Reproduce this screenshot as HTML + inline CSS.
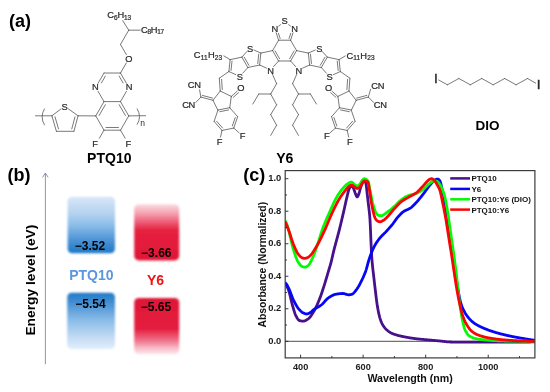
<!DOCTYPE html>
<html><head><meta charset="utf-8"><title>Figure</title>
<style>html,body{margin:0;padding:0;background:#fff}svg{display:block}text{font-family:"Liberation Sans", sans-serif}</style>
</head><body>
<svg width="550" height="392" viewBox="0 0 550 392">
<rect width="550" height="392" fill="#fff"/>
<text x="9" y="26.5" font-size="18" text-anchor="start" font-weight="bold" fill="#000" >(a)</text>
<text x="7.5" y="181" font-size="18" text-anchor="start" font-weight="bold" fill="#000" >(b)</text>
<text x="243.3" y="181.2" font-size="18" text-anchor="start" font-weight="bold" fill="#000" >(c)</text>
<g id="ptq10">
<line x1="95.75" y1="115.9" x2="104" y2="101.61" stroke="#4c4c4c" stroke-width="0.75" stroke-linecap="round"/>
<line x1="99.09" y1="115.52" x2="105.34" y2="104.69" stroke="#4c4c4c" stroke-width="0.75" stroke-linecap="round"/>
<line x1="104" y1="101.61" x2="120.5" y2="101.61" stroke="#4c4c4c" stroke-width="0.75" stroke-linecap="round"/>
<line x1="120.5" y1="101.61" x2="128.75" y2="115.9" stroke="#4c4c4c" stroke-width="0.75" stroke-linecap="round"/>
<line x1="119.16" y1="104.69" x2="125.41" y2="115.52" stroke="#4c4c4c" stroke-width="0.75" stroke-linecap="round"/>
<line x1="128.75" y1="115.9" x2="120.5" y2="130.19" stroke="#4c4c4c" stroke-width="0.75" stroke-linecap="round"/>
<line x1="120.5" y1="130.19" x2="104" y2="130.19" stroke="#4c4c4c" stroke-width="0.75" stroke-linecap="round"/>
<line x1="118.5" y1="127.49" x2="106" y2="127.49" stroke="#4c4c4c" stroke-width="0.75" stroke-linecap="round"/>
<line x1="104" y1="130.19" x2="95.75" y2="115.9" stroke="#4c4c4c" stroke-width="0.75" stroke-linecap="round"/>
<line x1="104" y1="101.61" x2="98.05" y2="91.3" stroke="#4c4c4c" stroke-width="0.75" stroke-linecap="round"/>
<line x1="98.05" y1="83.34" x2="104" y2="73.03" stroke="#4c4c4c" stroke-width="0.75" stroke-linecap="round"/>
<line x1="101.39" y1="82.96" x2="105.34" y2="76.11" stroke="#4c4c4c" stroke-width="0.75" stroke-linecap="round"/>
<line x1="104" y1="73.03" x2="120.5" y2="73.03" stroke="#4c4c4c" stroke-width="0.75" stroke-linecap="round"/>
<line x1="120.5" y1="73.03" x2="126.45" y2="83.34" stroke="#4c4c4c" stroke-width="0.75" stroke-linecap="round"/>
<line x1="119.16" y1="76.11" x2="123.11" y2="82.96" stroke="#4c4c4c" stroke-width="0.75" stroke-linecap="round"/>
<line x1="126.45" y1="91.3" x2="120.5" y2="101.61" stroke="#4c4c4c" stroke-width="0.75" stroke-linecap="round"/>
<text x="95.15" y="90.27" font-size="9.3" text-anchor="middle" font-weight="normal" fill="#2a2a2a" stroke="#2a2a2a" stroke-width="0.22" letter-spacing="-0.25">N</text>
<text x="128.95" y="90.27" font-size="9.3" text-anchor="middle" font-weight="normal" fill="#2a2a2a" stroke="#2a2a2a" stroke-width="0.22" letter-spacing="-0.25">N</text>
<line x1="120.5" y1="73.03" x2="126.35" y2="62.9" stroke="#4c4c4c" stroke-width="0.75" stroke-linecap="round"/>
<text x="128.75" y="61.79" font-size="9.3" text-anchor="middle" font-weight="normal" fill="#2a2a2a" stroke="#2a2a2a" stroke-width="0.22" letter-spacing="-0.25">O</text>
<line x1="126.35" y1="54.59" x2="120.5" y2="44.45" stroke="#4c4c4c" stroke-width="0.75" stroke-linecap="round"/>
<line x1="120.5" y1="44.45" x2="128.75" y2="30.16" stroke="#4c4c4c" stroke-width="0.75" stroke-linecap="round"/>
<line x1="128.75" y1="30.16" x2="122.7" y2="20.6" stroke="#4c4c4c" stroke-width="0.75" stroke-linecap="round"/>
<line x1="128.75" y1="30.16" x2="140.2" y2="30.16" stroke="#4c4c4c" stroke-width="0.75" stroke-linecap="round"/>
<text x="107.3" y="17.75" font-size="9.3" text-anchor="start" font-weight="normal" fill="#2a2a2a" stroke="#2a2a2a" stroke-width="0.22" letter-spacing="-0.12">C<tspan font-size="6.51" dy="1.86">6</tspan><tspan dy="-1.86">H</tspan><tspan font-size="6.51" dy="1.86">13</tspan></text>
<text x="141" y="32.55" font-size="9.3" text-anchor="start" font-weight="normal" fill="#2a2a2a" stroke="#2a2a2a" stroke-width="0.22" letter-spacing="-0.3">C<tspan font-size="6.51" dy="1.86">8</tspan><tspan dy="-1.86">H</tspan><tspan font-size="6.51" dy="1.86">17</tspan></text>
<line x1="104" y1="130.19" x2="99.35" y2="138.24" stroke="#4c4c4c" stroke-width="0.75" stroke-linecap="round"/>
<line x1="120.5" y1="130.19" x2="125.15" y2="138.24" stroke="#4c4c4c" stroke-width="0.75" stroke-linecap="round"/>
<text x="95" y="147.25" font-size="9.3" text-anchor="middle" font-weight="normal" fill="#2a2a2a" stroke="#2a2a2a" stroke-width="0.22" letter-spacing="-0.25">F</text>
<text x="128.2" y="147.25" font-size="9.3" text-anchor="middle" font-weight="normal" fill="#2a2a2a" stroke="#2a2a2a" stroke-width="0.22" letter-spacing="-0.25">F</text>
<line x1="95.75" y1="115.9" x2="78.1" y2="115.8" stroke="#4c4c4c" stroke-width="0.75" stroke-linecap="round"/>
<line x1="78.1" y1="115.8" x2="68.35" y2="108.87" stroke="#4c4c4c" stroke-width="0.75" stroke-linecap="round"/>
<line x1="60.93" y1="108.97" x2="51.9" y2="115.8" stroke="#4c4c4c" stroke-width="0.75" stroke-linecap="round"/>
<line x1="51.9" y1="115.8" x2="56.4" y2="131.3" stroke="#4c4c4c" stroke-width="0.75" stroke-linecap="round"/>
<line x1="54.99" y1="116.78" x2="58.49" y2="128.82" stroke="#4c4c4c" stroke-width="0.75" stroke-linecap="round"/>
<line x1="56.4" y1="131.3" x2="73.9" y2="131.3" stroke="#4c4c4c" stroke-width="0.75" stroke-linecap="round"/>
<line x1="73.9" y1="131.3" x2="78.1" y2="115.8" stroke="#4c4c4c" stroke-width="0.75" stroke-linecap="round"/>
<line x1="71.76" y1="128.86" x2="75.02" y2="116.83" stroke="#4c4c4c" stroke-width="0.75" stroke-linecap="round"/>
<text x="64.6" y="109.75" font-size="9.3" text-anchor="middle" font-weight="normal" fill="#2a2a2a" stroke="#2a2a2a" stroke-width="0.22" letter-spacing="-0.25">S</text>
<line x1="51.9" y1="115.8" x2="35.5" y2="115.8" stroke="#4c4c4c" stroke-width="0.75" stroke-linecap="round"/>
<line x1="128.75" y1="115.9" x2="145.6" y2="115.7" stroke="#4c4c4c" stroke-width="0.75" stroke-linecap="round"/>
<path d="M44.6 108.6 Q39.6 116.8 44.6 125.2" fill="none" stroke="#4c4c4c" stroke-width="0.75"/>
<path d="M137.0 108.6 Q142.0 116.6 137.0 124.6" fill="none" stroke="#4c4c4c" stroke-width="0.75"/>
<text x="142.6" y="125.6" font-size="8.5" text-anchor="middle" font-weight="normal" fill="#2a2a2a" >n</text>
<text x="109.3" y="163" font-size="14" text-anchor="middle" font-weight="bold" fill="#000" >PTQ10</text>
</g>
<g id="y6">
<line x1="278.6" y1="40.21" x2="290.6" y2="40.21" stroke="#4c4c4c" stroke-width="0.75" stroke-linecap="round"/>
<line x1="278.6" y1="60.99" x2="290.6" y2="60.99" stroke="#4c4c4c" stroke-width="0.75" stroke-linecap="round"/>
<line x1="278.6" y1="40.21" x2="272.6" y2="50.6" stroke="#4c4c4c" stroke-width="0.75" stroke-linecap="round"/>
<line x1="290.6" y1="40.21" x2="296.6" y2="50.6" stroke="#4c4c4c" stroke-width="0.75" stroke-linecap="round"/>
<line x1="272.6" y1="50.6" x2="278.6" y2="60.99" stroke="#4c4c4c" stroke-width="0.75" stroke-linecap="round"/>
<line x1="275.08" y1="50.9" x2="279.58" y2="58.69" stroke="#4c4c4c" stroke-width="0.75" stroke-linecap="round"/>
<line x1="296.6" y1="50.6" x2="290.6" y2="60.99" stroke="#4c4c4c" stroke-width="0.75" stroke-linecap="round"/>
<line x1="294.12" y1="50.9" x2="289.62" y2="58.69" stroke="#4c4c4c" stroke-width="0.75" stroke-linecap="round"/>
<line x1="278.6" y1="40.21" x2="276.19" y2="32.79" stroke="#4c4c4c" stroke-width="0.75" stroke-linecap="round"/>
<line x1="280.13" y1="38.45" x2="278.46" y2="33.31" stroke="#4c4c4c" stroke-width="0.75" stroke-linecap="round"/>
<line x1="290.6" y1="40.21" x2="293.01" y2="32.79" stroke="#4c4c4c" stroke-width="0.75" stroke-linecap="round"/>
<line x1="289.07" y1="38.45" x2="290.74" y2="33.31" stroke="#4c4c4c" stroke-width="0.75" stroke-linecap="round"/>
<line x1="278.69" y1="26.03" x2="280.55" y2="24.68" stroke="#4c4c4c" stroke-width="0.75" stroke-linecap="round"/>
<line x1="290.51" y1="26.03" x2="288.65" y2="24.68" stroke="#4c4c4c" stroke-width="0.75" stroke-linecap="round"/>
<text x="274.69" y="31.94" font-size="9.3" text-anchor="middle" font-weight="normal" fill="#2a2a2a" stroke="#2a2a2a" stroke-width="0.22" letter-spacing="-0.25">N</text>
<text x="294.51" y="31.94" font-size="9.3" text-anchor="middle" font-weight="normal" fill="#2a2a2a" stroke="#2a2a2a" stroke-width="0.22" letter-spacing="-0.25">N</text>
<text x="284.6" y="24.49" font-size="9.3" text-anchor="middle" font-weight="normal" fill="#2a2a2a" stroke="#2a2a2a" stroke-width="0.22" letter-spacing="-0.25">S</text>
<line x1="278.6" y1="60.99" x2="273.51" y2="66.64" stroke="#4c4c4c" stroke-width="0.75" stroke-linecap="round"/>
<line x1="266.55" y1="68.12" x2="259.61" y2="65.03" stroke="#4c4c4c" stroke-width="0.75" stroke-linecap="round"/>
<line x1="260.86" y1="53.09" x2="272.6" y2="50.6" stroke="#4c4c4c" stroke-width="0.75" stroke-linecap="round"/>
<line x1="260.86" y1="53.09" x2="259.61" y2="65.03" stroke="#4c4c4c" stroke-width="0.75" stroke-linecap="round"/>
<line x1="258.74" y1="54.18" x2="257.75" y2="63.53" stroke="#4c4c4c" stroke-width="0.75" stroke-linecap="round"/>
<line x1="259.61" y1="65.03" x2="247.87" y2="67.52" stroke="#4c4c4c" stroke-width="0.75" stroke-linecap="round"/>
<line x1="241.87" y1="57.13" x2="246.96" y2="51.48" stroke="#4c4c4c" stroke-width="0.75" stroke-linecap="round"/>
<line x1="253.92" y1="50" x2="260.86" y2="53.09" stroke="#4c4c4c" stroke-width="0.75" stroke-linecap="round"/>
<line x1="241.87" y1="57.13" x2="247.87" y2="67.52" stroke="#4c4c4c" stroke-width="0.75" stroke-linecap="round"/>
<line x1="244.25" y1="57.26" x2="248.95" y2="65.4" stroke="#4c4c4c" stroke-width="0.75" stroke-linecap="round"/>
<line x1="247.87" y1="67.52" x2="242.78" y2="73.17" stroke="#4c4c4c" stroke-width="0.75" stroke-linecap="round"/>
<line x1="235.82" y1="74.65" x2="228.88" y2="71.56" stroke="#4c4c4c" stroke-width="0.75" stroke-linecap="round"/>
<line x1="228.88" y1="71.56" x2="230.13" y2="59.63" stroke="#4c4c4c" stroke-width="0.75" stroke-linecap="round"/>
<line x1="231" y1="70.48" x2="231.99" y2="61.13" stroke="#4c4c4c" stroke-width="0.75" stroke-linecap="round"/>
<line x1="230.13" y1="59.63" x2="241.87" y2="57.13" stroke="#4c4c4c" stroke-width="0.75" stroke-linecap="round"/>
<text x="270.57" y="73.76" font-size="9.3" text-anchor="middle" font-weight="normal" fill="#2a2a2a" stroke="#2a2a2a" stroke-width="0.22" letter-spacing="-0.25">N</text>
<text x="249.9" y="51.76" font-size="9.3" text-anchor="middle" font-weight="normal" fill="#2a2a2a" stroke="#2a2a2a" stroke-width="0.22" letter-spacing="-0.25">S</text>
<text x="239.84" y="80.09" font-size="9.3" text-anchor="middle" font-weight="normal" fill="#2a2a2a" stroke="#2a2a2a" stroke-width="0.22" letter-spacing="-0.25">S</text>
<line x1="230.13" y1="59.63" x2="223.9" y2="55.9" stroke="#4c4c4c" stroke-width="0.75" stroke-linecap="round"/>
<line x1="228.88" y1="71.56" x2="219.3" y2="78.2" stroke="#4c4c4c" stroke-width="0.75" stroke-linecap="round"/>
<line x1="219.3" y1="78.2" x2="220.2" y2="91" stroke="#4c4c4c" stroke-width="0.75" stroke-linecap="round"/>
<line x1="221.59" y1="79.34" x2="222.3" y2="89.55" stroke="#4c4c4c" stroke-width="0.75" stroke-linecap="round"/>
<line x1="220.2" y1="91" x2="231.3" y2="96.4" stroke="#4c4c4c" stroke-width="0.75" stroke-linecap="round"/>
<line x1="231.3" y1="96.4" x2="229.74" y2="107.9" stroke="#4c4c4c" stroke-width="0.75" stroke-linecap="round"/>
<line x1="217.8" y1="110.1" x2="213" y2="100.3" stroke="#4c4c4c" stroke-width="0.75" stroke-linecap="round"/>
<line x1="213" y1="100.3" x2="220.2" y2="91" stroke="#4c4c4c" stroke-width="0.75" stroke-linecap="round"/>
<line x1="231.3" y1="96.4" x2="237.25" y2="91.14" stroke="#4c4c4c" stroke-width="0.75" stroke-linecap="round"/>
<line x1="233.22" y1="97.37" x2="238.58" y2="92.64" stroke="#4c4c4c" stroke-width="0.75" stroke-linecap="round"/>
<text x="240.7" y="91.45" font-size="9.3" text-anchor="middle" font-weight="normal" fill="#2a2a2a" stroke="#2a2a2a" stroke-width="0.22" letter-spacing="-0.25">O</text>
<line x1="213" y1="100.3" x2="200.9" y2="97.1" stroke="#4c4c4c" stroke-width="0.75" stroke-linecap="round"/>
<line x1="212.54" y1="98.11" x2="202.38" y2="95.42" stroke="#4c4c4c" stroke-width="0.75" stroke-linecap="round"/>
<line x1="217.97" y1="110.02" x2="229.74" y2="107.69" stroke="#4c4c4c" stroke-width="0.75" stroke-linecap="round"/>
<line x1="219.83" y1="111.69" x2="228.65" y2="109.94" stroke="#4c4c4c" stroke-width="0.75" stroke-linecap="round"/>
<line x1="229.74" y1="107.69" x2="237.64" y2="116.72" stroke="#4c4c4c" stroke-width="0.75" stroke-linecap="round"/>
<line x1="237.64" y1="116.72" x2="233.77" y2="128.08" stroke="#4c4c4c" stroke-width="0.75" stroke-linecap="round"/>
<line x1="235.26" y1="117.49" x2="232.36" y2="126.01" stroke="#4c4c4c" stroke-width="0.75" stroke-linecap="round"/>
<line x1="233.77" y1="128.08" x2="222" y2="130.41" stroke="#4c4c4c" stroke-width="0.75" stroke-linecap="round"/>
<line x1="222" y1="130.41" x2="214.1" y2="121.38" stroke="#4c4c4c" stroke-width="0.75" stroke-linecap="round"/>
<line x1="222.52" y1="127.96" x2="216.59" y2="121.19" stroke="#4c4c4c" stroke-width="0.75" stroke-linecap="round"/>
<line x1="214.1" y1="121.38" x2="217.97" y2="110.02" stroke="#4c4c4c" stroke-width="0.75" stroke-linecap="round"/>
<line x1="233.77" y1="128.08" x2="239.25" y2="132.92" stroke="#4c4c4c" stroke-width="0.75" stroke-linecap="round"/>
<line x1="222" y1="130.41" x2="220.5" y2="137.11" stroke="#4c4c4c" stroke-width="0.75" stroke-linecap="round"/>
<text x="242.4" y="139.05" font-size="9.3" text-anchor="middle" font-weight="normal" fill="#2a2a2a" stroke="#2a2a2a" stroke-width="0.22" letter-spacing="-0.25">F</text>
<text x="219.5" y="144.95" font-size="9.3" text-anchor="middle" font-weight="normal" fill="#2a2a2a" stroke="#2a2a2a" stroke-width="0.22" letter-spacing="-0.25">F</text>
<line x1="272.41" y1="74.12" x2="276.6" y2="83.7" stroke="#4c4c4c" stroke-width="0.75" stroke-linecap="round"/>
<line x1="276.6" y1="83.7" x2="270.7" y2="94" stroke="#4c4c4c" stroke-width="0.75" stroke-linecap="round"/>
<line x1="270.7" y1="94" x2="276.6" y2="104.9" stroke="#4c4c4c" stroke-width="0.75" stroke-linecap="round"/>
<line x1="276.6" y1="104.9" x2="270.7" y2="114.6" stroke="#4c4c4c" stroke-width="0.75" stroke-linecap="round"/>
<line x1="270.7" y1="114.6" x2="276.6" y2="125.2" stroke="#4c4c4c" stroke-width="0.75" stroke-linecap="round"/>
<line x1="276.6" y1="125.2" x2="270.7" y2="135.4" stroke="#4c4c4c" stroke-width="0.75" stroke-linecap="round"/>
<line x1="270.7" y1="94" x2="258.8" y2="94" stroke="#4c4c4c" stroke-width="0.75" stroke-linecap="round"/>
<line x1="258.8" y1="94" x2="252.8" y2="104" stroke="#4c4c4c" stroke-width="0.75" stroke-linecap="round"/>
<line x1="290.6" y1="60.99" x2="295.69" y2="66.64" stroke="#4c4c4c" stroke-width="0.75" stroke-linecap="round"/>
<line x1="302.65" y1="68.12" x2="309.59" y2="65.03" stroke="#4c4c4c" stroke-width="0.75" stroke-linecap="round"/>
<line x1="308.34" y1="53.09" x2="296.6" y2="50.6" stroke="#4c4c4c" stroke-width="0.75" stroke-linecap="round"/>
<line x1="308.34" y1="53.09" x2="309.59" y2="65.03" stroke="#4c4c4c" stroke-width="0.75" stroke-linecap="round"/>
<line x1="310.46" y1="54.18" x2="311.45" y2="63.53" stroke="#4c4c4c" stroke-width="0.75" stroke-linecap="round"/>
<line x1="309.59" y1="65.03" x2="321.33" y2="67.52" stroke="#4c4c4c" stroke-width="0.75" stroke-linecap="round"/>
<line x1="327.33" y1="57.13" x2="322.24" y2="51.48" stroke="#4c4c4c" stroke-width="0.75" stroke-linecap="round"/>
<line x1="315.28" y1="50" x2="308.34" y2="53.09" stroke="#4c4c4c" stroke-width="0.75" stroke-linecap="round"/>
<line x1="327.33" y1="57.13" x2="321.33" y2="67.52" stroke="#4c4c4c" stroke-width="0.75" stroke-linecap="round"/>
<line x1="324.95" y1="57.26" x2="320.25" y2="65.4" stroke="#4c4c4c" stroke-width="0.75" stroke-linecap="round"/>
<line x1="321.33" y1="67.52" x2="326.42" y2="73.17" stroke="#4c4c4c" stroke-width="0.75" stroke-linecap="round"/>
<line x1="333.38" y1="74.65" x2="340.32" y2="71.56" stroke="#4c4c4c" stroke-width="0.75" stroke-linecap="round"/>
<line x1="340.32" y1="71.56" x2="339.07" y2="59.63" stroke="#4c4c4c" stroke-width="0.75" stroke-linecap="round"/>
<line x1="338.2" y1="70.48" x2="337.21" y2="61.13" stroke="#4c4c4c" stroke-width="0.75" stroke-linecap="round"/>
<line x1="339.07" y1="59.63" x2="327.33" y2="57.13" stroke="#4c4c4c" stroke-width="0.75" stroke-linecap="round"/>
<text x="298.63" y="73.76" font-size="9.3" text-anchor="middle" font-weight="normal" fill="#2a2a2a" stroke="#2a2a2a" stroke-width="0.22" letter-spacing="-0.25">N</text>
<text x="319.3" y="51.76" font-size="9.3" text-anchor="middle" font-weight="normal" fill="#2a2a2a" stroke="#2a2a2a" stroke-width="0.22" letter-spacing="-0.25">S</text>
<text x="329.36" y="80.09" font-size="9.3" text-anchor="middle" font-weight="normal" fill="#2a2a2a" stroke="#2a2a2a" stroke-width="0.22" letter-spacing="-0.25">S</text>
<line x1="339.07" y1="59.63" x2="345.3" y2="55.9" stroke="#4c4c4c" stroke-width="0.75" stroke-linecap="round"/>
<line x1="340.32" y1="71.56" x2="349.9" y2="78.2" stroke="#4c4c4c" stroke-width="0.75" stroke-linecap="round"/>
<line x1="349.9" y1="78.2" x2="349" y2="91" stroke="#4c4c4c" stroke-width="0.75" stroke-linecap="round"/>
<line x1="347.61" y1="79.34" x2="346.9" y2="89.55" stroke="#4c4c4c" stroke-width="0.75" stroke-linecap="round"/>
<line x1="349" y1="91" x2="337.9" y2="96.4" stroke="#4c4c4c" stroke-width="0.75" stroke-linecap="round"/>
<line x1="337.9" y1="96.4" x2="339.46" y2="107.9" stroke="#4c4c4c" stroke-width="0.75" stroke-linecap="round"/>
<line x1="351.4" y1="110.1" x2="356.2" y2="100.3" stroke="#4c4c4c" stroke-width="0.75" stroke-linecap="round"/>
<line x1="356.2" y1="100.3" x2="349" y2="91" stroke="#4c4c4c" stroke-width="0.75" stroke-linecap="round"/>
<line x1="337.9" y1="96.4" x2="331.95" y2="91.14" stroke="#4c4c4c" stroke-width="0.75" stroke-linecap="round"/>
<line x1="335.98" y1="97.37" x2="330.62" y2="92.64" stroke="#4c4c4c" stroke-width="0.75" stroke-linecap="round"/>
<text x="328.5" y="91.45" font-size="9.3" text-anchor="middle" font-weight="normal" fill="#2a2a2a" stroke="#2a2a2a" stroke-width="0.22" letter-spacing="-0.25">O</text>
<line x1="356.2" y1="100.3" x2="368.3" y2="97.1" stroke="#4c4c4c" stroke-width="0.75" stroke-linecap="round"/>
<line x1="356.66" y1="98.11" x2="366.82" y2="95.42" stroke="#4c4c4c" stroke-width="0.75" stroke-linecap="round"/>
<line x1="351.23" y1="110.02" x2="339.46" y2="107.69" stroke="#4c4c4c" stroke-width="0.75" stroke-linecap="round"/>
<line x1="349.37" y1="111.69" x2="340.55" y2="109.94" stroke="#4c4c4c" stroke-width="0.75" stroke-linecap="round"/>
<line x1="339.46" y1="107.69" x2="331.56" y2="116.72" stroke="#4c4c4c" stroke-width="0.75" stroke-linecap="round"/>
<line x1="331.56" y1="116.72" x2="335.43" y2="128.08" stroke="#4c4c4c" stroke-width="0.75" stroke-linecap="round"/>
<line x1="333.94" y1="117.49" x2="336.84" y2="126.01" stroke="#4c4c4c" stroke-width="0.75" stroke-linecap="round"/>
<line x1="335.43" y1="128.08" x2="347.2" y2="130.41" stroke="#4c4c4c" stroke-width="0.75" stroke-linecap="round"/>
<line x1="347.2" y1="130.41" x2="355.1" y2="121.38" stroke="#4c4c4c" stroke-width="0.75" stroke-linecap="round"/>
<line x1="346.68" y1="127.96" x2="352.61" y2="121.19" stroke="#4c4c4c" stroke-width="0.75" stroke-linecap="round"/>
<line x1="355.1" y1="121.38" x2="351.23" y2="110.02" stroke="#4c4c4c" stroke-width="0.75" stroke-linecap="round"/>
<line x1="335.43" y1="128.08" x2="329.95" y2="132.92" stroke="#4c4c4c" stroke-width="0.75" stroke-linecap="round"/>
<line x1="347.2" y1="130.41" x2="348.7" y2="137.11" stroke="#4c4c4c" stroke-width="0.75" stroke-linecap="round"/>
<text x="326.8" y="139.05" font-size="9.3" text-anchor="middle" font-weight="normal" fill="#2a2a2a" stroke="#2a2a2a" stroke-width="0.22" letter-spacing="-0.25">F</text>
<text x="349.7" y="144.95" font-size="9.3" text-anchor="middle" font-weight="normal" fill="#2a2a2a" stroke="#2a2a2a" stroke-width="0.22" letter-spacing="-0.25">F</text>
<line x1="296.79" y1="74.12" x2="292.6" y2="83.7" stroke="#4c4c4c" stroke-width="0.75" stroke-linecap="round"/>
<line x1="292.6" y1="83.7" x2="298.5" y2="94" stroke="#4c4c4c" stroke-width="0.75" stroke-linecap="round"/>
<line x1="298.5" y1="94" x2="292.6" y2="104.9" stroke="#4c4c4c" stroke-width="0.75" stroke-linecap="round"/>
<line x1="292.6" y1="104.9" x2="298.5" y2="114.6" stroke="#4c4c4c" stroke-width="0.75" stroke-linecap="round"/>
<line x1="298.5" y1="114.6" x2="292.6" y2="125.2" stroke="#4c4c4c" stroke-width="0.75" stroke-linecap="round"/>
<line x1="292.6" y1="125.2" x2="298.5" y2="135.4" stroke="#4c4c4c" stroke-width="0.75" stroke-linecap="round"/>
<line x1="298.5" y1="94" x2="310.4" y2="94" stroke="#4c4c4c" stroke-width="0.75" stroke-linecap="round"/>
<line x1="310.4" y1="94" x2="316.4" y2="104" stroke="#4c4c4c" stroke-width="0.75" stroke-linecap="round"/>
<line x1="200.9" y1="97.1" x2="199.6" y2="89.9" stroke="#4c4c4c" stroke-width="0.75" stroke-linecap="round"/>
<line x1="200.9" y1="97.1" x2="195.9" y2="102.4" stroke="#4c4c4c" stroke-width="0.75" stroke-linecap="round"/>
<text x="194.2" y="88" font-size="9.3" text-anchor="middle" font-weight="normal" fill="#2a2a2a" stroke="#2a2a2a" stroke-width="0.22" letter-spacing="-0.25">CN</text>
<text x="188.6" y="108.2" font-size="9.3" text-anchor="middle" font-weight="normal" fill="#2a2a2a" stroke="#2a2a2a" stroke-width="0.22" letter-spacing="-0.25">CN</text>
<line x1="368.3" y1="97.1" x2="370.6" y2="89.3" stroke="#4c4c4c" stroke-width="0.75" stroke-linecap="round"/>
<line x1="368.3" y1="97.1" x2="373.6" y2="102.4" stroke="#4c4c4c" stroke-width="0.75" stroke-linecap="round"/>
<text x="377.8" y="89.2" font-size="9.3" text-anchor="middle" font-weight="normal" fill="#2a2a2a" stroke="#2a2a2a" stroke-width="0.22" letter-spacing="-0.25">CN</text>
<text x="380.2" y="108.1" font-size="9.3" text-anchor="middle" font-weight="normal" fill="#2a2a2a" stroke="#2a2a2a" stroke-width="0.22" letter-spacing="-0.25">CN</text>
<text x="193.8" y="57.75" font-size="9.3" text-anchor="start" font-weight="normal" fill="#2a2a2a" stroke="#2a2a2a" stroke-width="0.22" letter-spacing="0.2">C<tspan font-size="6.51" dy="1.86">11</tspan><tspan dy="-1.86">H</tspan><tspan font-size="6.51" dy="1.86">23</tspan></text>
<text x="346.4" y="58.55" font-size="9.3" text-anchor="start" font-weight="normal" fill="#2a2a2a" stroke="#2a2a2a" stroke-width="0.22" letter-spacing="0.15">C<tspan font-size="6.51" dy="1.86">11</tspan><tspan dy="-1.86">H</tspan><tspan font-size="6.51" dy="1.86">23</tspan></text>
<text x="284.7" y="163" font-size="14" text-anchor="middle" font-weight="bold" fill="#000" >Y6</text>
</g>
<g id="dio">
<line x1="447.4" y1="84.8" x2="458.85" y2="78.5" stroke="#4c4c4c" stroke-width="0.75" stroke-linecap="round"/>
<line x1="458.85" y1="78.5" x2="470.3" y2="84.8" stroke="#4c4c4c" stroke-width="0.75" stroke-linecap="round"/>
<line x1="470.3" y1="84.8" x2="481.75" y2="78.5" stroke="#4c4c4c" stroke-width="0.75" stroke-linecap="round"/>
<line x1="481.75" y1="78.5" x2="493.2" y2="84.8" stroke="#4c4c4c" stroke-width="0.75" stroke-linecap="round"/>
<line x1="493.2" y1="84.8" x2="504.65" y2="78.5" stroke="#4c4c4c" stroke-width="0.75" stroke-linecap="round"/>
<line x1="504.65" y1="78.5" x2="516.1" y2="84.8" stroke="#4c4c4c" stroke-width="0.75" stroke-linecap="round"/>
<line x1="516.1" y1="84.8" x2="527.55" y2="78.5" stroke="#4c4c4c" stroke-width="0.75" stroke-linecap="round"/>
<line x1="447.4" y1="84.8" x2="438.7" y2="80" stroke="#4c4c4c" stroke-width="0.75" stroke-linecap="round"/>
<line x1="527.55" y1="78.5" x2="535.7" y2="83.2" stroke="#4c4c4c" stroke-width="0.75" stroke-linecap="round"/>
<text x="435.8" y="82.95" font-size="13.5" text-anchor="middle" font-weight="normal" fill="#2a2a2a" stroke="#2a2a2a" stroke-width="0.45">I</text>
<text x="538.7" y="89.45" font-size="13.5" text-anchor="middle" font-weight="normal" fill="#2a2a2a" stroke="#2a2a2a" stroke-width="0.45">I</text>
<text x="487.6" y="129.6" font-size="13.5" text-anchor="middle" font-weight="bold" fill="#000" >DIO</text>
</g>
<defs>
<linearGradient id="gb1" x1="0" y1="0" x2="0" y2="1"><stop offset="0" stop-color="#d8e7f8"/><stop offset="0.3" stop-color="#b4d2f0"/><stop offset="0.5" stop-color="#8cbee8"/><stop offset="0.75" stop-color="#5096d7"/><stop offset="1" stop-color="#1e78c6"/></linearGradient>
<linearGradient id="gb2" x1="0" y1="0" x2="0" y2="1"><stop offset="0" stop-color="#2079c6"/><stop offset="0.2" stop-color="#4a92d5"/><stop offset="0.5" stop-color="#8cbee8"/><stop offset="0.8" stop-color="#c4dcf4"/><stop offset="1" stop-color="#e2eefb"/></linearGradient>
<linearGradient id="gr1" x1="0" y1="0" x2="0" y2="1"><stop offset="0" stop-color="#fcdbe1"/><stop offset="0.15" stop-color="#f6a6b4"/><stop offset="0.32" stop-color="#ee5c78"/><stop offset="0.46" stop-color="#e5213f"/><stop offset="1" stop-color="#e01636"/></linearGradient>
<linearGradient id="gr2" x1="0" y1="0" x2="0" y2="1"><stop offset="0" stop-color="#e01636"/><stop offset="0.55" stop-color="#e41f3e"/><stop offset="0.75" stop-color="#ef6f88"/><stop offset="0.9" stop-color="#f8c0cb"/><stop offset="1" stop-color="#fde8ec"/></linearGradient>
<filter id="soft" x="-10%" y="-10%" width="120%" height="120%"><feGaussianBlur stdDeviation="0.9"/></filter>
</defs>
<g id="energy">
<line x1="45.4" y1="173.3" x2="45.4" y2="364.2" stroke="#77779a" stroke-width="0.8"/>
<path d="M42.6 177.4 L45.4 173.0 L48.2 177.4" fill="none" stroke="#77779a" stroke-width="0.8"/>
<rect x="67.6" y="196.8" width="47.4" height="56.4" rx="4.5" fill="url(#gb1)" filter="url(#soft)"/>
<rect x="134.2" y="204.2" width="45" height="56.2" rx="4.5" fill="url(#gr1)" filter="url(#soft)"/>
<rect x="67.2" y="292.8" width="47.8" height="56.2" rx="4.5" fill="url(#gb2)" filter="url(#soft)"/>
<rect x="134.2" y="298.0" width="45" height="56.2" rx="4.5" fill="url(#gr2)" filter="url(#soft)"/>
<text x="89.9" y="249.9" font-size="12" text-anchor="middle" font-weight="bold" fill="#000" >−3.52</text>
<text x="156.3" y="256.9" font-size="12" text-anchor="middle" font-weight="bold" fill="#000" >−3.66</text>
<text x="90.4" y="307.6" font-size="12" text-anchor="middle" font-weight="bold" fill="#000" >−5.54</text>
<text x="156" y="310.9" font-size="12" text-anchor="middle" font-weight="bold" fill="#000" >−5.65</text>
<text x="91.4" y="279.8" font-size="14" text-anchor="middle" font-weight="bold" fill="#5a96e1" >PTQ10</text>
<text x="155.6" y="284.6" font-size="14" text-anchor="middle" font-weight="bold" fill="#f01414" >Y6</text>
<text transform="translate(34.7 335.6) rotate(-90)" font-size="12.5" font-weight="bold" fill="#000" textLength="111" lengthAdjust="spacingAndGlyphs">Energy level (eV)</text>
</g>
<g id="plot">
<clipPath id="pc"><rect x="285.2" y="170.6" width="249.7" height="187.3"/></clipPath>
<line x1="285.2" y1="341.3" x2="534.9" y2="341.3" stroke="#222" stroke-width="0.8"/>
<g clip-path="url(#pc)" fill="none" stroke-linejoin="round" stroke-linecap="butt">
<path d="M284.97 284.06 L285.28 284.21 L285.59 284.44 L285.9 284.72 L286.22 285.08 L286.53 285.55 L286.84 286.11 L287.15 286.76 L287.47 287.47 L287.78 288.24 L288.09 289.05 L288.4 289.88 L288.72 290.73 L289.03 291.65 L289.34 292.7 L289.66 293.85 L289.97 295.08 L290.28 296.38 L290.59 297.71 L290.91 299.05 L291.22 300.39 L291.53 301.71 L291.84 302.97 L292.16 304.16 L292.47 305.25 L292.78 306.33 L293.1 307.42 L293.41 308.51 L293.72 309.58 L294.03 310.63 L294.35 311.64 L294.66 312.61 L294.97 313.52 L295.28 314.35 L295.6 315.1 L295.91 315.76 L296.22 316.33 L296.53 316.9 L296.85 317.46 L297.16 318 L297.47 318.51 L297.79 318.98 L298.1 319.41 L298.41 319.8 L298.72 320.12 L299.04 320.38 L299.35 320.56 L299.66 320.67 L299.97 320.74 L300.29 320.81 L300.6 320.87 L300.91 320.93 L301.23 320.98 L301.54 321.02 L301.85 321.06 L302.16 321.09 L302.48 321.12 L302.79 321.13 L303.1 321.14 L303.41 321.13 L303.73 321.1 L304.04 321.04 L304.35 320.97 L304.67 320.87 L304.98 320.75 L305.29 320.62 L305.6 320.47 L305.92 320.31 L306.23 320.14 L306.54 319.95 L306.85 319.76 L307.17 319.57 L307.48 319.37 L307.79 319.17 L308.1 318.96 L308.42 318.73 L308.73 318.47 L309.04 318.18 L309.36 317.87 L309.67 317.52 L309.98 317.16 L310.29 316.77 L310.61 316.36 L310.92 315.93 L311.23 315.48 L311.54 315.02 L311.86 314.55 L312.17 314.06 L312.48 313.57 L312.8 313.06 L313.11 312.55 L313.42 312.04 L313.73 311.52 L314.05 311 L314.36 310.47 L314.67 309.92 L314.98 309.34 L315.3 308.74 L315.61 308.12 L315.92 307.48 L316.24 306.82 L316.55 306.15 L316.86 305.46 L317.17 304.75 L317.49 304.03 L317.8 303.3 L318.11 302.56 L318.42 301.8 L318.74 301.03 L319.05 300.26 L319.36 299.47 L319.67 298.68 L319.99 297.89 L320.3 297.07 L320.61 296.23 L320.93 295.36 L321.24 294.47 L321.55 293.56 L321.86 292.64 L322.18 291.69 L322.49 290.73 L322.8 289.76 L323.11 288.78 L323.43 287.79 L323.74 286.8 L324.05 285.8 L324.37 284.81 L324.68 283.81 L324.99 282.82 L325.3 281.8 L325.62 280.78 L325.93 279.74 L326.24 278.7 L326.55 277.64 L326.87 276.58 L327.18 275.52 L327.49 274.45 L327.8 273.39 L328.12 272.33 L328.43 271.28 L328.74 270.24 L329.06 269.22 L329.37 268.2 L329.68 267.17 L329.99 266.12 L330.31 265.05 L330.62 263.94 L330.93 262.78 L331.24 261.55 L331.56 260.27 L331.87 258.95 L332.18 257.6 L332.5 256.23 L332.81 254.86 L333.12 253.51 L333.43 252.17 L333.75 250.87 L334.06 249.62 L334.37 248.4 L334.68 247.19 L335 246.01 L335.31 244.83 L335.62 243.67 L335.94 242.52 L336.25 241.38 L336.56 240.23 L336.87 239.09 L337.19 237.95 L337.5 236.8 L337.81 235.64 L338.12 234.47 L338.44 233.28 L338.75 232.08 L339.06 230.86 L339.37 229.62 L339.69 228.37 L340 227.1 L340.31 225.82 L340.63 224.52 L340.94 223.22 L341.25 221.91 L341.56 220.59 L341.88 219.27 L342.19 217.94 L342.5 216.6 L342.81 215.26 L343.13 213.91 L343.44 212.57 L343.75 211.22 L344.07 209.85 L344.38 208.46 L344.69 207.04 L345 205.62 L345.32 204.2 L345.63 202.78 L345.94 201.38 L346.25 200.01 L346.57 198.68 L346.88 197.4 L347.19 196.1 L347.5 194.74 L347.82 193.39 L348.13 192.08 L348.44 190.86 L348.76 189.79 L349.07 188.92 L349.38 188.28 L349.69 187.72 L350.01 187.19 L350.32 186.72 L350.63 186.35 L350.94 186.11 L351.26 186.02 L351.57 186.08 L351.88 186.26 L352.2 186.53 L352.51 186.86 L352.82 187.24 L353.13 187.64 L353.45 188.17 L353.76 188.9 L354.07 189.77 L354.38 190.72 L354.7 191.67 L355.01 192.56 L355.32 193.33 L355.64 194.07 L355.95 194.87 L356.26 195.64 L356.57 196.29 L356.89 196.74 L357.2 196.91 L357.51 196.74 L357.82 196.29 L358.14 195.64 L358.45 194.9 L358.76 194.15 L359.07 193.28 L359.39 192.19 L359.7 190.98 L360.01 189.72 L360.33 188.51 L360.64 187.44 L360.95 186.57 L361.26 185.75 L361.58 184.96 L361.89 184.21 L362.2 183.52 L362.51 182.9 L362.83 182.37 L363.14 181.95 L363.45 181.58 L363.77 181.23 L364.08 180.93 L364.39 180.73 L364.7 180.65 L365.02 180.89 L365.33 181.54 L365.64 182.48 L365.95 183.58 L366.27 185.38 L366.58 188.11 L366.89 191.22 L367.21 194.15 L367.52 196.76 L367.83 199.36 L368.14 202 L368.46 204.72 L368.77 207.37 L369.08 209.94 L369.39 212.71 L369.71 215.94 L370.02 220.03 L370.33 226.03 L370.64 233.38 L370.96 241.16 L371.27 248.45 L371.58 254.31 L371.9 258.75 L372.21 262.53 L372.52 265.85 L372.83 268.83 L373.15 271.58 L373.46 274.2 L373.77 276.82 L374.08 279.52 L374.4 282.29 L374.71 285.05 L375.02 287.78 L375.34 290.44 L375.65 293.01 L375.96 295.54 L376.27 298.08 L376.59 300.57 L376.9 302.95 L377.21 305.15 L377.52 307.12 L377.84 308.87 L378.15 310.52 L378.46 312.09 L378.78 313.56 L379.09 314.93 L379.4 316.19 L379.71 317.35 L380.03 318.39 L380.34 319.35 L380.65 320.25 L380.96 321.09 L381.28 321.87 L381.59 322.59 L381.9 323.26 L382.21 323.88 L382.53 324.45 L382.84 324.99 L383.15 325.5 L383.47 325.99 L383.78 326.46 L384.09 326.91 L384.4 327.33 L384.72 327.73 L385.03 328.11 L385.34 328.46 L385.65 328.79 L385.97 329.11 L386.28 329.4 L386.59 329.69 L386.91 329.97 L387.22 330.25 L387.53 330.52 L387.84 330.77 L388.16 331.03 L388.47 331.27 L388.78 331.5 L389.09 331.73 L389.41 331.95 L389.72 332.15 L390.03 332.35 L390.34 332.54 L390.66 332.73 L390.97 332.9 L391.28 333.06 L391.6 333.21 L391.91 333.36 L392.22 333.49 L392.53 333.62 L392.85 333.75 L393.16 333.87 L393.47 333.99 L393.78 334.11 L394.1 334.22 L394.41 334.33 L394.72 334.44 L395.04 334.55 L395.35 334.65 L395.66 334.75 L395.97 334.84 L396.29 334.94 L396.6 335.03 L396.91 335.12 L397.22 335.2 L397.54 335.29 L397.85 335.37 L398.16 335.45 L398.48 335.53 L398.79 335.61 L399.1 335.69 L399.41 335.76 L399.73 335.83 L400.04 335.91 L400.35 335.98 L400.66 336.05 L400.98 336.12 L401.29 336.19 L401.6 336.26 L401.91 336.33 L402.23 336.4 L402.54 336.46 L402.85 336.53 L403.17 336.59 L403.48 336.66 L403.79 336.72 L404.1 336.79 L404.42 336.85 L404.73 336.91 L405.04 336.97 L405.35 337.03 L405.67 337.09 L405.98 337.15 L406.29 337.21 L406.61 337.27 L406.92 337.32 L407.23 337.38 L407.54 337.44 L407.86 337.49 L408.17 337.55 L408.48 337.6 L408.79 337.65 L409.11 337.7 L409.42 337.76 L409.73 337.81 L410.05 337.86 L410.36 337.91 L410.67 337.96 L410.98 338.01 L411.3 338.05 L411.61 338.1 L411.92 338.15 L412.23 338.19 L412.55 338.24 L412.86 338.28 L413.17 338.33 L413.48 338.37 L413.8 338.41 L414.11 338.46 L414.42 338.5 L414.74 338.54 L415.05 338.58 L415.36 338.62 L415.67 338.66 L415.99 338.7 L416.3 338.74 L416.61 338.77 L416.92 338.81 L417.24 338.85 L417.55 338.88 L417.86 338.92 L418.18 338.95 L418.49 338.99 L418.8 339.02 L419.11 339.05 L419.43 339.09 L419.74 339.12 L420.05 339.15 L420.36 339.18 L420.68 339.21 L420.99 339.24 L421.3 339.27 L421.61 339.3 L421.93 339.33 L422.24 339.36 L422.55 339.39 L422.87 339.42 L423.18 339.45 L423.49 339.48 L423.8 339.5 L424.12 339.53 L424.43 339.56 L424.74 339.59 L425.05 339.62 L425.37 339.64 L425.68 339.67 L425.99 339.7 L426.31 339.73 L426.62 339.75 L426.93 339.78 L427.24 339.81 L427.56 339.84 L427.87 339.86 L428.18 339.89 L428.49 339.92 L428.81 339.95 L429.12 339.98 L429.43 340.01 L429.75 340.04 L430.06 340.07 L430.37 340.1 L430.68 340.13 L431 340.16 L431.31 340.19 L431.62 340.22 L431.93 340.25 L432.25 340.28 L432.56 340.3 L432.87 340.33 L433.18 340.36 L433.5 340.39 L433.81 340.42 L434.12 340.45 L434.44 340.48 L434.75 340.51 L435.06 340.54 L435.37 340.57 L435.69 340.6 L436 340.63 L436.31 340.66 L436.62 340.69 L436.94 340.72 L437.25 340.74 L437.56 340.77 L437.88 340.8 L438.19 340.83 L438.5 340.86 L438.81 340.89 L439.13 340.92 L439.44 340.95 L439.75 340.98 L440.06 341.01 L440.38 341.04 L440.69 341.08 L441 341.11 L441.32 341.14 L441.63 341.17 L441.94 341.2 L442.25 341.24 L442.57 341.28 L442.88 341.31 L443.19 341.35 L443.5 341.39 L443.82 341.43 L444.13 341.47 L444.44 341.51 L444.75 341.55 L445.07 341.59 L445.38 341.63 L445.69 341.66 L446.01 341.7 L446.32 341.73 L446.63 341.77 L446.94 341.8 L447.26 341.83 L447.57 341.86 L447.88 341.88 L448.19 341.9 L448.51 341.92 L448.82 341.94 L449.13 341.95 L449.45 341.96 L449.76 341.97 L450.07 341.98 L450.38 341.99 L450.7 342 L451.01 342.01 L451.32 342.02 L451.63 342.03 L451.95 342.04 L452.26 342.05 L452.57 342.05 L452.88 342.06 L453.2 342.07 L453.51 342.08 L453.82 342.08 L454.14 342.09 L454.45 342.09 L454.76 342.1 L455.07 342.1 L455.39 342.1 L455.7 342.11 L456.01 342.11 L456.32 342.11 L456.64 342.11 L456.95 342.11 L457.26 342.11 L457.58 342.11 L457.89 342.11 L458.2 342.11 L458.51 342.11 L458.83 342.11 L459.14 342.11 L459.45 342.11 L459.76 342.11 L460.08 342.11 L460.39 342.11 L460.7 342.11 L461.02 342.11 L461.33 342.11 L461.64 342.11 L461.95 342.11 L462.27 342.11 L462.58 342.11 L462.89 342.11 L463.2 342.11 L463.52 342.11 L463.83 342.11 L464.14 342.11 L464.45 342.11 L464.77 342.11 L465.08 342.11 L465.39 342.11 L465.71 342.11 L466.02 342.11 L466.33 342.11 L466.64 342.11 L466.96 342.11 L467.27 342.11 L467.58 342.11 L467.89 342.11 L468.21 342.11 L468.52 342.11 L468.83 342.11 L469.15 342.11 L469.46 342.11 L469.77 342.11 L470.08 342.11 L470.4 342.11 L470.71 342.11 L471.02 342.11 L471.33 342.11 L471.65 342.11 L471.96 342.11 L472.27 342.11 L472.59 342.11 L472.9 342.11 L473.21 342.11 L473.52 342.11 L473.84 342.11 L474.15 342.11 L474.46 342.11 L474.77 342.11 L475.09 342.11 L475.4 342.11 L475.71 342.11 L476.02 342.11 L476.34 342.11 L476.65 342.11 L476.96 342.11 L477.28 342.11 L477.59 342.11 L477.9 342.11 L478.21 342.11 L478.53 342.11 L478.84 342.11 L479.15 342.11 L479.46 342.11 L479.78 342.11 L480.09 342.11 L480.4 342.11 L480.72 342.11 L481.03 342.11 L481.34 342.11 L481.65 342.11 L481.97 342.11 L482.28 342.11 L482.59 342.11 L482.9 342.11 L483.22 342.11 L483.53 342.11 L483.84 342.11 L484.15 342.11 L484.47 342.11 L484.78 342.11 L485.09 342.11 L485.41 342.11 L485.72 342.11 L486.03 342.11 L486.34 342.11 L486.66 342.11 L486.97 342.11 L487.28 342.11 L487.59 342.11 L487.91 342.11 L488.22 342.11 L488.53 342.11 L488.85 342.11 L489.16 342.11 L489.47 342.11 L489.78 342.11 L490.1 342.11 L490.41 342.11 L490.72 342.11 L491.03 342.11 L491.35 342.11 L491.66 342.11 L491.97 342.11 L492.29 342.11 L492.6 342.11 L492.91 342.11 L493.22 342.11 L493.54 342.11 L493.85 342.11 L494.16 342.11 L494.47 342.11 L494.79 342.11 L495.1 342.11 L495.41 342.11 L495.72 342.11 L496.04 342.11 L496.35 342.11 L496.66 342.11 L496.98 342.11 L497.29 342.1 L497.6 342.1 L497.91 342.1 L498.23 342.1 L498.54 342.1 L498.85 342.1 L499.16 342.1 L499.48 342.1 L499.79 342.1 L500.1 342.1 L500.42 342.1 L500.73 342.1 L501.04 342.1 L501.35 342.1 L501.67 342.1 L501.98 342.1 L502.29 342.09 L502.6 342.09 L502.92 342.09 L503.23 342.09 L503.54 342.09 L503.86 342.09 L504.17 342.09 L504.48 342.09 L504.79 342.09 L505.11 342.09 L505.42 342.09 L505.73 342.08 L506.04 342.08 L506.36 342.08 L506.67 342.08 L506.98 342.08 L507.29 342.08 L507.61 342.08 L507.92 342.08 L508.23 342.08 L508.55 342.08 L508.86 342.07 L509.17 342.07 L509.48 342.07 L509.8 342.07 L510.11 342.07 L510.42 342.07 L510.73 342.07 L511.05 342.07 L511.36 342.07 L511.67 342.06 L511.99 342.06 L512.3 342.06 L512.61 342.06 L512.92 342.06 L513.24 342.06 L513.55 342.06 L513.86 342.06 L514.17 342.05 L514.49 342.05 L514.8 342.05 L515.11 342.05 L515.42 342.05 L515.74 342.05 L516.05 342.05 L516.36 342.05 L516.68 342.04 L516.99 342.04 L517.3 342.04 L517.61 342.04 L517.93 342.04 L518.24 342.04 L518.55 342.04 L518.86 342.03 L519.18 342.03 L519.49 342.03 L519.8 342.03 L520.12 342.03 L520.43 342.03 L520.74 342.03 L521.05 342.02 L521.37 342.02 L521.68 342.02 L521.99 342.02 L522.3 342.02 L522.62 342.02 L522.93 342.01 L523.24 342.01 L523.56 342.01 L523.87 342.01 L524.18 342.01 L524.49 342.01 L524.81 342.01 L525.12 342 L525.43 342 L525.74 342 L526.06 342 L526.37 342 L526.68 342 L526.99 341.99 L527.31 341.99 L527.62 341.99 L527.93 341.99 L528.25 341.99 L528.56 341.99 L528.87 341.98 L529.18 341.98 L529.5 341.98 L529.81 341.98 L530.12 341.98 L530.43 341.98 L530.75 341.97 L531.06 341.97 L531.37 341.97 L531.69 341.97 L532 341.97 L532.31 341.97 L532.62 341.96 L532.94 341.96 L533.25 341.96 L533.56 341.96 L533.87 341.96 L534.19 341.96 L534.5 341.95 L534.81 341.95 L535.12 341.95" stroke="#47108c" stroke-width="2.8"/>
<path d="M284.97 282.44 L285.28 282.73 L285.59 283.05 L285.9 283.41 L286.22 283.83 L286.53 284.29 L286.84 284.78 L287.15 285.31 L287.47 285.87 L287.78 286.45 L288.09 287.05 L288.4 287.67 L288.72 288.29 L289.03 288.95 L289.34 289.65 L289.66 290.4 L289.97 291.18 L290.28 291.99 L290.59 292.82 L290.91 293.66 L291.22 294.51 L291.53 295.35 L291.84 296.19 L292.16 297.01 L292.47 297.8 L292.78 298.56 L293.1 299.28 L293.41 299.95 L293.72 300.57 L294.03 301.17 L294.35 301.77 L294.66 302.37 L294.97 302.95 L295.28 303.53 L295.6 304.09 L295.91 304.64 L296.22 305.18 L296.53 305.71 L296.85 306.22 L297.16 306.72 L297.47 307.19 L297.79 307.65 L298.1 308.1 L298.41 308.52 L298.72 308.92 L299.04 309.3 L299.35 309.65 L299.66 309.98 L299.97 310.3 L300.29 310.62 L300.6 310.92 L300.91 311.22 L301.23 311.5 L301.54 311.77 L301.85 312.03 L302.16 312.27 L302.48 312.49 L302.79 312.7 L303.1 312.88 L303.41 313.04 L303.73 313.17 L304.04 313.29 L304.35 313.41 L304.67 313.53 L304.98 313.64 L305.29 313.73 L305.6 313.82 L305.92 313.89 L306.23 313.94 L306.54 313.98 L306.85 313.98 L307.17 313.95 L307.48 313.89 L307.79 313.79 L308.1 313.67 L308.42 313.53 L308.73 313.37 L309.04 313.2 L309.36 313.03 L309.67 312.85 L309.98 312.68 L310.29 312.5 L310.61 312.29 L310.92 312.06 L311.23 311.81 L311.54 311.54 L311.86 311.27 L312.17 310.99 L312.48 310.7 L312.8 310.42 L313.11 310.15 L313.42 309.89 L313.73 309.64 L314.05 309.41 L314.36 309.19 L314.67 308.99 L314.98 308.79 L315.3 308.59 L315.61 308.41 L315.92 308.22 L316.24 308.05 L316.55 307.87 L316.86 307.7 L317.17 307.52 L317.49 307.35 L317.8 307.18 L318.11 307.01 L318.42 306.83 L318.74 306.65 L319.05 306.47 L319.36 306.28 L319.67 306.09 L319.99 305.89 L320.3 305.69 L320.61 305.47 L320.93 305.25 L321.24 305.02 L321.55 304.77 L321.86 304.5 L322.18 304.21 L322.49 303.91 L322.8 303.59 L323.11 303.26 L323.43 302.93 L323.74 302.58 L324.05 302.23 L324.37 301.88 L324.68 301.52 L324.99 301.17 L325.3 300.81 L325.62 300.46 L325.93 300.12 L326.24 299.79 L326.55 299.47 L326.87 299.16 L327.18 298.86 L327.49 298.58 L327.8 298.32 L328.12 298.08 L328.43 297.87 L328.74 297.66 L329.06 297.45 L329.37 297.25 L329.68 297.05 L329.99 296.85 L330.31 296.65 L330.62 296.46 L330.93 296.27 L331.24 296.08 L331.56 295.91 L331.87 295.73 L332.18 295.57 L332.5 295.41 L332.81 295.26 L333.12 295.11 L333.43 294.97 L333.75 294.85 L334.06 294.73 L334.37 294.62 L334.68 294.53 L335 294.44 L335.31 294.37 L335.62 294.3 L335.94 294.25 L336.25 294.19 L336.56 294.14 L336.87 294.08 L337.19 294.03 L337.5 293.98 L337.81 293.93 L338.12 293.88 L338.44 293.84 L338.75 293.79 L339.06 293.75 L339.37 293.72 L339.69 293.68 L340 293.65 L340.31 293.62 L340.63 293.59 L340.94 293.57 L341.25 293.54 L341.56 293.53 L341.88 293.51 L342.19 293.5 L342.5 293.5 L342.81 293.5 L343.13 293.51 L343.44 293.54 L343.75 293.58 L344.07 293.64 L344.38 293.72 L344.69 293.8 L345 293.9 L345.32 293.99 L345.63 294.09 L345.94 294.2 L346.25 294.3 L346.57 294.4 L346.88 294.49 L347.19 294.57 L347.5 294.65 L347.82 294.71 L348.13 294.76 L348.44 294.79 L348.76 294.8 L349.07 294.79 L349.38 294.77 L349.69 294.74 L350.01 294.69 L350.32 294.64 L350.63 294.58 L350.94 294.51 L351.26 294.43 L351.57 294.34 L351.88 294.24 L352.2 294.15 L352.51 294.01 L352.82 293.8 L353.13 293.54 L353.45 293.24 L353.76 292.91 L354.07 292.57 L354.38 292.21 L354.7 291.87 L355.01 291.52 L355.32 291.15 L355.64 290.77 L355.95 290.36 L356.26 289.94 L356.57 289.5 L356.89 289.05 L357.2 288.59 L357.51 288.12 L357.82 287.64 L358.14 287.15 L358.45 286.63 L358.76 286.1 L359.07 285.55 L359.39 284.98 L359.7 284.4 L360.01 283.81 L360.33 283.2 L360.64 282.59 L360.95 281.96 L361.26 281.34 L361.58 280.71 L361.89 280.07 L362.2 279.43 L362.51 278.77 L362.83 278.11 L363.14 277.43 L363.45 276.73 L363.77 276.02 L364.08 275.29 L364.39 274.54 L364.7 273.77 L365.02 272.97 L365.33 272.15 L365.64 271.3 L365.95 270.38 L366.27 269.37 L366.58 268.31 L366.89 267.19 L367.21 266.04 L367.52 264.87 L367.83 263.71 L368.14 262.56 L368.46 261.45 L368.77 260.39 L369.08 259.4 L369.39 258.48 L369.71 257.57 L370.02 256.68 L370.33 255.8 L370.64 254.93 L370.96 254.09 L371.27 253.25 L371.58 252.44 L371.9 251.65 L372.21 250.88 L372.52 250.13 L372.83 249.41 L373.15 248.72 L373.46 248.05 L373.77 247.42 L374.08 246.81 L374.4 246.23 L374.71 245.66 L375.02 245.11 L375.34 244.57 L375.65 244.04 L375.96 243.53 L376.27 243.03 L376.59 242.54 L376.9 242.07 L377.21 241.61 L377.52 241.15 L377.84 240.71 L378.15 240.28 L378.46 239.85 L378.78 239.44 L379.09 239.03 L379.4 238.63 L379.71 238.23 L380.03 237.85 L380.34 237.47 L380.65 237.11 L380.96 236.76 L381.28 236.42 L381.59 236.08 L381.9 235.76 L382.21 235.44 L382.53 235.13 L382.84 234.82 L383.15 234.52 L383.47 234.22 L383.78 233.91 L384.09 233.61 L384.4 233.31 L384.72 233 L385.03 232.68 L385.34 232.37 L385.65 232.04 L385.97 231.71 L386.28 231.37 L386.59 231.03 L386.91 230.69 L387.22 230.35 L387.53 230.01 L387.84 229.67 L388.16 229.32 L388.47 228.98 L388.78 228.63 L389.09 228.28 L389.41 227.92 L389.72 227.57 L390.03 227.21 L390.34 226.85 L390.66 226.48 L390.97 226.12 L391.28 225.75 L391.6 225.37 L391.91 224.99 L392.22 224.61 L392.53 224.21 L392.85 223.8 L393.16 223.38 L393.47 222.96 L393.78 222.52 L394.1 222.09 L394.41 221.65 L394.72 221.2 L395.04 220.76 L395.35 220.32 L395.66 219.89 L395.97 219.46 L396.29 219.04 L396.6 218.62 L396.91 218.22 L397.22 217.83 L397.54 217.45 L397.85 217.09 L398.16 216.74 L398.48 216.39 L398.79 216.05 L399.1 215.7 L399.41 215.36 L399.73 215.03 L400.04 214.69 L400.35 214.37 L400.66 214.05 L400.98 213.73 L401.29 213.43 L401.6 213.13 L401.91 212.84 L402.23 212.56 L402.54 212.3 L402.85 212.04 L403.17 211.8 L403.48 211.57 L403.79 211.36 L404.1 211.16 L404.42 210.98 L404.73 210.81 L405.04 210.65 L405.35 210.5 L405.67 210.36 L405.98 210.23 L406.29 210.09 L406.61 209.96 L406.92 209.83 L407.23 209.7 L407.54 209.56 L407.86 209.42 L408.17 209.27 L408.48 209.11 L408.79 208.94 L409.11 208.77 L409.42 208.6 L409.73 208.42 L410.05 208.24 L410.36 208.05 L410.67 207.85 L410.98 207.64 L411.3 207.41 L411.61 207.16 L411.92 206.89 L412.23 206.6 L412.55 206.3 L412.86 205.99 L413.17 205.67 L413.48 205.35 L413.8 205.04 L414.11 204.73 L414.42 204.42 L414.74 204.1 L415.05 203.78 L415.36 203.46 L415.67 203.13 L415.99 202.8 L416.3 202.46 L416.61 202.12 L416.92 201.78 L417.24 201.43 L417.55 201.07 L417.86 200.72 L418.18 200.35 L418.49 199.99 L418.8 199.61 L419.11 199.24 L419.43 198.86 L419.74 198.48 L420.05 198.09 L420.36 197.71 L420.68 197.32 L420.99 196.92 L421.3 196.53 L421.61 196.14 L421.93 195.74 L422.24 195.34 L422.55 194.94 L422.87 194.55 L423.18 194.15 L423.49 193.74 L423.8 193.33 L424.12 192.91 L424.43 192.49 L424.74 192.06 L425.05 191.62 L425.37 191.19 L425.68 190.75 L425.99 190.31 L426.31 189.87 L426.62 189.42 L426.93 188.99 L427.24 188.55 L427.56 188.12 L427.87 187.69 L428.18 187.27 L428.49 186.85 L428.81 186.44 L429.12 186.04 L429.43 185.66 L429.75 185.28 L430.06 184.91 L430.37 184.55 L430.68 184.2 L431 183.84 L431.31 183.48 L431.62 183.12 L431.93 182.76 L432.25 182.41 L432.56 182.07 L432.87 181.73 L433.18 181.41 L433.5 181.11 L433.81 180.82 L434.12 180.56 L434.44 180.32 L434.75 180.1 L435.06 179.92 L435.37 179.76 L435.69 179.61 L436 179.46 L436.31 179.32 L436.62 179.2 L436.94 179.11 L437.25 179.05 L437.56 179.03 L437.88 179.07 L438.19 179.19 L438.5 179.38 L438.81 179.63 L439.13 179.94 L439.44 180.28 L439.75 180.65 L440.06 181.21 L440.38 182.08 L440.69 183.18 L441 184.45 L441.32 185.79 L441.63 187.15 L441.94 188.46 L442.25 189.73 L442.57 191.05 L442.88 192.41 L443.19 193.82 L443.5 195.26 L443.82 196.75 L444.13 198.28 L444.44 199.84 L444.75 201.44 L445.07 203.1 L445.38 204.8 L445.69 206.55 L446.01 208.33 L446.32 210.15 L446.63 212.01 L446.94 213.89 L447.26 215.8 L447.57 217.72 L447.88 219.69 L448.19 221.7 L448.51 223.76 L448.82 225.85 L449.13 227.97 L449.45 230.12 L449.76 232.29 L450.07 234.48 L450.38 236.67 L450.7 238.86 L451.01 241.08 L451.32 243.33 L451.63 245.62 L451.95 247.93 L452.26 250.24 L452.57 252.56 L452.88 254.87 L453.2 257.15 L453.51 259.41 L453.82 261.63 L454.14 263.82 L454.45 266 L454.76 268.18 L455.07 270.35 L455.39 272.49 L455.7 274.61 L456.01 276.7 L456.32 278.76 L456.64 280.79 L456.95 282.76 L457.26 284.73 L457.58 286.7 L457.89 288.65 L458.2 290.56 L458.51 292.41 L458.83 294.18 L459.14 295.85 L459.45 297.4 L459.76 298.85 L460.08 300.23 L460.39 301.51 L460.7 302.69 L461.02 303.74 L461.33 304.69 L461.64 305.58 L461.95 306.42 L462.27 307.21 L462.58 307.96 L462.89 308.67 L463.2 309.35 L463.52 309.99 L463.83 310.61 L464.14 311.21 L464.45 311.78 L464.77 312.34 L465.08 312.88 L465.39 313.4 L465.71 313.91 L466.02 314.4 L466.33 314.87 L466.64 315.33 L466.96 315.77 L467.27 316.2 L467.58 316.61 L467.89 317 L468.21 317.39 L468.52 317.76 L468.83 318.13 L469.15 318.49 L469.46 318.84 L469.77 319.19 L470.08 319.52 L470.4 319.85 L470.71 320.17 L471.02 320.48 L471.33 320.79 L471.65 321.08 L471.96 321.37 L472.27 321.64 L472.59 321.91 L472.9 322.16 L473.21 322.41 L473.52 322.65 L473.84 322.88 L474.15 323.1 L474.46 323.32 L474.77 323.53 L475.09 323.73 L475.4 323.94 L475.71 324.13 L476.02 324.33 L476.34 324.52 L476.65 324.7 L476.96 324.88 L477.28 325.06 L477.59 325.24 L477.9 325.41 L478.21 325.58 L478.53 325.74 L478.84 325.9 L479.15 326.06 L479.46 326.22 L479.78 326.37 L480.09 326.53 L480.4 326.68 L480.72 326.83 L481.03 326.97 L481.34 327.12 L481.65 327.26 L481.97 327.41 L482.28 327.55 L482.59 327.69 L482.9 327.83 L483.22 327.97 L483.53 328.11 L483.84 328.24 L484.15 328.38 L484.47 328.51 L484.78 328.64 L485.09 328.77 L485.41 328.9 L485.72 329.02 L486.03 329.15 L486.34 329.27 L486.66 329.4 L486.97 329.52 L487.28 329.64 L487.59 329.76 L487.91 329.88 L488.22 329.99 L488.53 330.11 L488.85 330.22 L489.16 330.34 L489.47 330.45 L489.78 330.56 L490.1 330.67 L490.41 330.78 L490.72 330.88 L491.03 330.99 L491.35 331.1 L491.66 331.2 L491.97 331.3 L492.29 331.41 L492.6 331.51 L492.91 331.61 L493.22 331.71 L493.54 331.8 L493.85 331.9 L494.16 332 L494.47 332.09 L494.79 332.19 L495.1 332.28 L495.41 332.38 L495.72 332.47 L496.04 332.56 L496.35 332.65 L496.66 332.74 L496.98 332.83 L497.29 332.92 L497.6 333.01 L497.91 333.1 L498.23 333.19 L498.54 333.27 L498.85 333.36 L499.16 333.44 L499.48 333.53 L499.79 333.61 L500.1 333.7 L500.42 333.78 L500.73 333.86 L501.04 333.94 L501.35 334.02 L501.67 334.1 L501.98 334.18 L502.29 334.26 L502.6 334.34 L502.92 334.42 L503.23 334.49 L503.54 334.57 L503.86 334.65 L504.17 334.72 L504.48 334.8 L504.79 334.87 L505.11 334.94 L505.42 335.02 L505.73 335.09 L506.04 335.16 L506.36 335.23 L506.67 335.31 L506.98 335.38 L507.29 335.45 L507.61 335.52 L507.92 335.59 L508.23 335.65 L508.55 335.72 L508.86 335.79 L509.17 335.86 L509.48 335.93 L509.8 335.99 L510.11 336.06 L510.42 336.12 L510.73 336.19 L511.05 336.25 L511.36 336.32 L511.67 336.38 L511.99 336.44 L512.3 336.51 L512.61 336.57 L512.92 336.63 L513.24 336.69 L513.55 336.75 L513.86 336.82 L514.17 336.88 L514.49 336.94 L514.8 337 L515.11 337.06 L515.42 337.11 L515.74 337.17 L516.05 337.23 L516.36 337.29 L516.68 337.35 L516.99 337.41 L517.3 337.46 L517.61 337.52 L517.93 337.58 L518.24 337.63 L518.55 337.69 L518.86 337.74 L519.18 337.8 L519.49 337.86 L519.8 337.91 L520.12 337.97 L520.43 338.02 L520.74 338.08 L521.05 338.13 L521.37 338.18 L521.68 338.24 L521.99 338.29 L522.3 338.34 L522.62 338.4 L522.93 338.45 L523.24 338.5 L523.56 338.56 L523.87 338.61 L524.18 338.66 L524.49 338.71 L524.81 338.76 L525.12 338.82 L525.43 338.87 L525.74 338.92 L526.06 338.97 L526.37 339.02 L526.68 339.07 L526.99 339.12 L527.31 339.17 L527.62 339.22 L527.93 339.27 L528.25 339.32 L528.56 339.37 L528.87 339.41 L529.18 339.46 L529.5 339.51 L529.81 339.56 L530.12 339.6 L530.43 339.65 L530.75 339.7 L531.06 339.75 L531.37 339.79 L531.69 339.84 L532 339.88 L532.31 339.93 L532.62 339.97 L532.94 340.02 L533.25 340.06 L533.56 340.11 L533.87 340.15 L534.19 340.2 L534.5 340.24 L534.81 340.28 L535.12 340.32" stroke="#0606f6" stroke-width="2.8"/>
<path d="M284.97 220.98 L285.28 221.2 L285.59 221.53 L285.9 221.95 L286.22 222.5 L286.53 223.23 L286.84 224.11 L287.15 225.1 L287.47 226.18 L287.78 227.31 L288.09 228.47 L288.4 229.62 L288.72 230.73 L289.03 231.85 L289.34 233.04 L289.66 234.29 L289.97 235.58 L290.28 236.91 L290.59 238.26 L290.91 239.62 L291.22 240.98 L291.53 242.34 L291.84 243.67 L292.16 244.97 L292.47 246.23 L292.78 247.44 L293.1 248.58 L293.41 249.65 L293.72 250.63 L294.03 251.6 L294.35 252.55 L294.66 253.49 L294.97 254.42 L295.28 255.32 L295.6 256.21 L295.91 257.06 L296.22 257.88 L296.53 258.67 L296.85 259.42 L297.16 260.12 L297.47 260.78 L297.79 261.39 L298.1 261.94 L298.41 262.44 L298.72 262.9 L299.04 263.36 L299.35 263.8 L299.66 264.22 L299.97 264.63 L300.29 265 L300.6 265.35 L300.91 265.67 L301.23 265.94 L301.54 266.18 L301.85 266.37 L302.16 266.5 L302.48 266.61 L302.79 266.72 L303.1 266.82 L303.41 266.9 L303.73 266.98 L304.04 267.05 L304.35 267.1 L304.67 267.14 L304.98 267.15 L305.29 267.14 L305.6 267.09 L305.92 266.99 L306.23 266.85 L306.54 266.68 L306.85 266.47 L307.17 266.25 L307.48 266 L307.79 265.74 L308.1 265.47 L308.42 265.2 L308.73 264.9 L309.04 264.55 L309.36 264.13 L309.67 263.67 L309.98 263.17 L310.29 262.63 L310.61 262.05 L310.92 261.44 L311.23 260.81 L311.54 260.16 L311.86 259.49 L312.17 258.81 L312.48 258.12 L312.8 257.43 L313.11 256.75 L313.42 256.04 L313.73 255.3 L314.05 254.52 L314.36 253.71 L314.67 252.88 L314.98 252.02 L315.3 251.13 L315.61 250.23 L315.92 249.32 L316.24 248.39 L316.55 247.46 L316.86 246.53 L317.17 245.59 L317.49 244.66 L317.8 243.74 L318.11 242.81 L318.42 241.85 L318.74 240.86 L319.05 239.87 L319.36 238.85 L319.67 237.83 L319.99 236.81 L320.3 235.79 L320.61 234.78 L320.93 233.78 L321.24 232.79 L321.55 231.83 L321.86 230.89 L322.18 229.98 L322.49 229.11 L322.8 228.26 L323.11 227.43 L323.43 226.61 L323.74 225.8 L324.05 225 L324.37 224.22 L324.68 223.44 L324.99 222.67 L325.3 221.92 L325.62 221.17 L325.93 220.43 L326.24 219.7 L326.55 218.97 L326.87 218.25 L327.18 217.53 L327.49 216.82 L327.8 216.11 L328.12 215.41 L328.43 214.71 L328.74 214.01 L329.06 213.31 L329.37 212.61 L329.68 211.92 L329.99 211.22 L330.31 210.52 L330.62 209.82 L330.93 209.11 L331.24 208.4 L331.56 207.7 L331.87 206.99 L332.18 206.29 L332.5 205.59 L332.81 204.9 L333.12 204.21 L333.43 203.53 L333.75 202.86 L334.06 202.2 L334.37 201.55 L334.68 200.91 L335 200.29 L335.31 199.68 L335.62 199.08 L335.94 198.5 L336.25 197.94 L336.56 197.4 L336.87 196.87 L337.19 196.35 L337.5 195.84 L337.81 195.34 L338.12 194.84 L338.44 194.36 L338.75 193.88 L339.06 193.41 L339.37 192.95 L339.69 192.49 L340 192.05 L340.31 191.62 L340.63 191.19 L340.94 190.77 L341.25 190.36 L341.56 189.96 L341.88 189.57 L342.19 189.19 L342.5 188.82 L342.81 188.46 L343.13 188.1 L343.44 187.74 L343.75 187.39 L344.07 187.04 L344.38 186.7 L344.69 186.36 L345 186.04 L345.32 185.72 L345.63 185.42 L345.94 185.12 L346.25 184.85 L346.57 184.58 L346.88 184.34 L347.19 184.11 L347.5 183.9 L347.82 183.7 L348.13 183.5 L348.44 183.29 L348.76 183.09 L349.07 182.89 L349.38 182.71 L349.69 182.55 L350.01 182.4 L350.32 182.28 L350.63 182.19 L350.94 182.13 L351.26 182.11 L351.57 182.16 L351.88 182.29 L352.2 182.48 L352.51 182.72 L352.82 183 L353.13 183.3 L353.45 183.6 L353.76 183.9 L354.07 184.16 L354.38 184.39 L354.7 184.61 L355.01 184.84 L355.32 185.08 L355.64 185.32 L355.95 185.54 L356.26 185.73 L356.57 185.88 L356.89 185.98 L357.2 186.02 L357.51 185.98 L357.82 185.86 L358.14 185.68 L358.45 185.45 L358.76 185.18 L359.07 184.88 L359.39 184.56 L359.7 184.23 L360.01 183.9 L360.33 183.52 L360.64 183.04 L360.95 182.5 L361.26 181.93 L361.58 181.36 L361.89 180.82 L362.2 180.36 L362.51 180 L362.83 179.7 L363.14 179.4 L363.45 179.13 L363.77 178.91 L364.08 178.76 L364.39 178.7 L364.7 178.73 L365.02 178.83 L365.33 178.97 L365.64 179.14 L365.95 179.32 L366.27 179.51 L366.58 179.71 L366.89 179.93 L367.21 180.2 L367.52 180.52 L367.83 180.91 L368.14 181.44 L368.46 182.39 L368.77 183.69 L369.08 185.23 L369.39 186.89 L369.71 188.54 L370.02 190.08 L370.33 191.58 L370.64 193.16 L370.96 194.8 L371.27 196.46 L371.58 198.1 L371.9 199.68 L372.21 201.18 L372.52 202.54 L372.83 203.74 L373.15 204.84 L373.46 205.93 L373.77 206.99 L374.08 208.02 L374.4 209 L374.71 209.92 L375.02 210.78 L375.34 211.56 L375.65 212.25 L375.96 212.85 L376.27 213.33 L376.59 213.72 L376.9 214.08 L377.21 214.41 L377.52 214.71 L377.84 214.97 L378.15 215.18 L378.46 215.34 L378.78 215.45 L379.09 215.52 L379.4 215.58 L379.71 215.64 L380.03 215.68 L380.34 215.72 L380.65 215.75 L380.96 215.77 L381.28 215.77 L381.59 215.74 L381.9 215.65 L382.21 215.54 L382.53 215.39 L382.84 215.22 L383.15 215.03 L383.47 214.84 L383.78 214.65 L384.09 214.47 L384.4 214.29 L384.72 214.09 L385.03 213.88 L385.34 213.65 L385.65 213.41 L385.97 213.17 L386.28 212.93 L386.59 212.68 L386.91 212.44 L387.22 212.2 L387.53 211.96 L387.84 211.72 L388.16 211.47 L388.47 211.23 L388.78 210.99 L389.09 210.74 L389.41 210.5 L389.72 210.25 L390.03 210 L390.34 209.75 L390.66 209.5 L390.97 209.24 L391.28 208.99 L391.6 208.73 L391.91 208.47 L392.22 208.21 L392.53 207.95 L392.85 207.69 L393.16 207.42 L393.47 207.16 L393.78 206.89 L394.1 206.62 L394.41 206.34 L394.72 206.06 L395.04 205.77 L395.35 205.48 L395.66 205.17 L395.97 204.86 L396.29 204.55 L396.6 204.23 L396.91 203.91 L397.22 203.58 L397.54 203.26 L397.85 202.94 L398.16 202.62 L398.48 202.3 L398.79 201.98 L399.1 201.67 L399.41 201.37 L399.73 201.07 L400.04 200.79 L400.35 200.51 L400.66 200.24 L400.98 199.98 L401.29 199.74 L401.6 199.51 L401.91 199.29 L402.23 199.07 L402.54 198.86 L402.85 198.65 L403.17 198.44 L403.48 198.23 L403.79 198.03 L404.1 197.83 L404.42 197.64 L404.73 197.45 L405.04 197.26 L405.35 197.08 L405.67 196.91 L405.98 196.74 L406.29 196.57 L406.61 196.41 L406.92 196.25 L407.23 196.1 L407.54 195.96 L407.86 195.82 L408.17 195.69 L408.48 195.57 L408.79 195.45 L409.11 195.34 L409.42 195.23 L409.73 195.14 L410.05 195.04 L410.36 194.96 L410.67 194.88 L410.98 194.8 L411.3 194.72 L411.61 194.65 L411.92 194.58 L412.23 194.51 L412.55 194.44 L412.86 194.37 L413.17 194.3 L413.48 194.22 L413.8 194.15 L414.11 194.07 L414.42 193.99 L414.74 193.9 L415.05 193.81 L415.36 193.71 L415.67 193.61 L415.99 193.5 L416.3 193.38 L416.61 193.25 L416.92 193.12 L417.24 192.98 L417.55 192.84 L417.86 192.69 L418.18 192.54 L418.49 192.38 L418.8 192.21 L419.11 192.04 L419.43 191.86 L419.74 191.68 L420.05 191.49 L420.36 191.31 L420.68 191.11 L420.99 190.91 L421.3 190.71 L421.61 190.51 L421.93 190.3 L422.24 190.08 L422.55 189.87 L422.87 189.65 L423.18 189.43 L423.49 189.2 L423.8 188.95 L424.12 188.68 L424.43 188.4 L424.74 188.1 L425.05 187.8 L425.37 187.48 L425.68 187.16 L425.99 186.84 L426.31 186.52 L426.62 186.19 L426.93 185.87 L427.24 185.56 L427.56 185.25 L427.87 184.95 L428.18 184.67 L428.49 184.4 L428.81 184.14 L429.12 183.9 L429.43 183.67 L429.75 183.43 L430.06 183.18 L430.37 182.92 L430.68 182.67 L431 182.42 L431.31 182.18 L431.62 181.95 L431.93 181.74 L432.25 181.55 L432.56 181.37 L432.87 181.23 L433.18 181.11 L433.5 181.03 L433.81 180.98 L434.12 180.98 L434.44 180.98 L434.75 181 L435.06 181.02 L435.37 181.06 L435.69 181.09 L436 181.14 L436.31 181.19 L436.62 181.24 L436.94 181.3 L437.25 181.41 L437.56 181.59 L437.88 181.84 L438.19 182.16 L438.5 182.52 L438.81 182.92 L439.13 183.34 L439.44 183.79 L439.75 184.24 L440.06 184.69 L440.38 185.2 L440.69 185.77 L441 186.4 L441.32 187.07 L441.63 187.78 L441.94 188.52 L442.25 189.27 L442.57 190.03 L442.88 190.82 L443.19 191.65 L443.5 192.51 L443.82 193.43 L444.13 194.41 L444.44 195.46 L444.75 196.59 L445.07 197.84 L445.38 199.25 L445.69 200.78 L446.01 202.42 L446.32 204.15 L446.63 205.93 L446.94 207.76 L447.26 209.59 L447.57 211.49 L447.88 213.49 L448.19 215.58 L448.51 217.72 L448.82 219.91 L449.13 222.1 L449.45 224.28 L449.76 226.45 L450.07 228.63 L450.38 230.83 L450.7 233.05 L451.01 235.27 L451.32 237.48 L451.63 239.68 L451.95 241.85 L452.26 244 L452.57 246.15 L452.88 248.31 L453.2 250.48 L453.51 252.68 L453.82 254.91 L454.14 257.16 L454.45 259.43 L454.76 261.73 L455.07 264.06 L455.39 266.41 L455.7 268.78 L456.01 271.23 L456.32 273.82 L456.64 276.66 L456.95 279.73 L457.26 282.92 L457.58 286.11 L457.89 289.18 L458.2 292 L458.51 294.54 L458.83 296.94 L459.14 299.23 L459.45 301.44 L459.76 303.58 L460.08 305.67 L460.39 307.76 L460.7 309.86 L461.02 311.95 L461.33 313.99 L461.64 315.95 L461.95 317.77 L462.27 319.44 L462.58 320.91 L462.89 322.31 L463.2 323.65 L463.52 324.94 L463.83 326.16 L464.14 327.28 L464.45 328.31 L464.77 329.22 L465.08 330 L465.39 330.65 L465.71 331.25 L466.02 331.82 L466.33 332.36 L466.64 332.86 L466.96 333.34 L467.27 333.78 L467.58 334.19 L467.89 334.57 L468.21 334.92 L468.52 335.23 L468.83 335.52 L469.15 335.77 L469.46 335.98 L469.77 336.18 L470.08 336.37 L470.4 336.55 L470.71 336.72 L471.02 336.89 L471.33 337.05 L471.65 337.2 L471.96 337.35 L472.27 337.49 L472.59 337.62 L472.9 337.74 L473.21 337.86 L473.52 337.98 L473.84 338.08 L474.15 338.19 L474.46 338.28 L474.77 338.37 L475.09 338.46 L475.4 338.54 L475.71 338.61 L476.02 338.68 L476.34 338.75 L476.65 338.81 L476.96 338.87 L477.28 338.93 L477.59 338.98 L477.9 339.04 L478.21 339.09 L478.53 339.14 L478.84 339.19 L479.15 339.24 L479.46 339.29 L479.78 339.34 L480.09 339.38 L480.4 339.42 L480.72 339.47 L481.03 339.51 L481.34 339.55 L481.65 339.59 L481.97 339.62 L482.28 339.66 L482.59 339.7 L482.9 339.73 L483.22 339.76 L483.53 339.8 L483.84 339.83 L484.15 339.86 L484.47 339.89 L484.78 339.92 L485.09 339.95 L485.41 339.97 L485.72 340 L486.03 340.03 L486.34 340.05 L486.66 340.08 L486.97 340.1 L487.28 340.13 L487.59 340.15 L487.91 340.17 L488.22 340.2 L488.53 340.22 L488.85 340.24 L489.16 340.26 L489.47 340.29 L489.78 340.31 L490.1 340.33 L490.41 340.35 L490.72 340.37 L491.03 340.39 L491.35 340.41 L491.66 340.43 L491.97 340.45 L492.29 340.47 L492.6 340.49 L492.91 340.51 L493.22 340.53 L493.54 340.55 L493.85 340.57 L494.16 340.59 L494.47 340.61 L494.79 340.62 L495.1 340.64 L495.41 340.66 L495.72 340.67 L496.04 340.69 L496.35 340.71 L496.66 340.72 L496.98 340.74 L497.29 340.75 L497.6 340.77 L497.91 340.78 L498.23 340.8 L498.54 340.81 L498.85 340.82 L499.16 340.84 L499.48 340.85 L499.79 340.86 L500.1 340.87 L500.42 340.88 L500.73 340.89 L501.04 340.9 L501.35 340.91 L501.67 340.92 L501.98 340.93 L502.29 340.94 L502.6 340.95 L502.92 340.96 L503.23 340.96 L503.54 340.97 L503.86 340.97 L504.17 340.98 L504.48 340.99 L504.79 340.99 L505.11 341 L505.42 341 L505.73 341.01 L506.04 341.01 L506.36 341.02 L506.67 341.03 L506.98 341.03 L507.29 341.04 L507.61 341.04 L507.92 341.05 L508.23 341.05 L508.55 341.06 L508.86 341.06 L509.17 341.07 L509.48 341.07 L509.8 341.08 L510.11 341.08 L510.42 341.09 L510.73 341.09 L511.05 341.1 L511.36 341.1 L511.67 341.11 L511.99 341.11 L512.3 341.12 L512.61 341.12 L512.92 341.13 L513.24 341.13 L513.55 341.13 L513.86 341.14 L514.17 341.14 L514.49 341.15 L514.8 341.15 L515.11 341.16 L515.42 341.16 L515.74 341.16 L516.05 341.17 L516.36 341.17 L516.68 341.18 L516.99 341.18 L517.3 341.18 L517.61 341.19 L517.93 341.19 L518.24 341.2 L518.55 341.2 L518.86 341.2 L519.18 341.21 L519.49 341.21 L519.8 341.21 L520.12 341.22 L520.43 341.22 L520.74 341.22 L521.05 341.23 L521.37 341.23 L521.68 341.23 L521.99 341.24 L522.3 341.24 L522.62 341.24 L522.93 341.24 L523.24 341.25 L523.56 341.25 L523.87 341.25 L524.18 341.25 L524.49 341.26 L524.81 341.26 L525.12 341.26 L525.43 341.26 L525.74 341.27 L526.06 341.27 L526.37 341.27 L526.68 341.27 L526.99 341.27 L527.31 341.28 L527.62 341.28 L527.93 341.28 L528.25 341.28 L528.56 341.28 L528.87 341.28 L529.18 341.29 L529.5 341.29 L529.81 341.29 L530.12 341.29 L530.43 341.29 L530.75 341.29 L531.06 341.29 L531.37 341.29 L531.69 341.3 L532 341.3 L532.31 341.3 L532.62 341.3 L532.94 341.3 L533.25 341.3 L533.56 341.3 L533.87 341.3 L534.19 341.3 L534.5 341.3 L534.81 341.3 L535.12 341.3" stroke="#04fa04" stroke-width="2.8"/>
<path d="M284.97 221.79 L285.28 222.36 L285.59 222.95 L285.9 223.58 L286.22 224.24 L286.53 224.92 L286.84 225.63 L287.15 226.35 L287.47 227.1 L287.78 227.86 L288.09 228.64 L288.4 229.44 L288.72 230.24 L289.03 231.08 L289.34 231.97 L289.66 232.89 L289.97 233.85 L290.28 234.82 L290.59 235.81 L290.91 236.82 L291.22 237.82 L291.53 238.81 L291.84 239.8 L292.16 240.76 L292.47 241.69 L292.78 242.59 L293.1 243.45 L293.41 244.26 L293.72 245.01 L294.03 245.75 L294.35 246.49 L294.66 247.21 L294.97 247.93 L295.28 248.63 L295.6 249.31 L295.91 249.97 L296.22 250.62 L296.53 251.24 L296.85 251.83 L297.16 252.39 L297.47 252.92 L297.79 253.42 L298.1 253.89 L298.41 254.31 L298.72 254.71 L299.04 255.1 L299.35 255.47 L299.66 255.82 L299.97 256.16 L300.29 256.47 L300.6 256.75 L300.91 257 L301.23 257.22 L301.54 257.4 L301.85 257.56 L302.16 257.71 L302.48 257.86 L302.79 258 L303.1 258.12 L303.41 258.23 L303.73 258.31 L304.04 258.36 L304.35 258.37 L304.67 258.36 L304.98 258.33 L305.29 258.28 L305.6 258.21 L305.92 258.13 L306.23 258.04 L306.54 257.94 L306.85 257.83 L307.17 257.72 L307.48 257.6 L307.79 257.44 L308.1 257.26 L308.42 257.05 L308.73 256.82 L309.04 256.57 L309.36 256.3 L309.67 256.02 L309.98 255.74 L310.29 255.45 L310.61 255.14 L310.92 254.81 L311.23 254.47 L311.54 254.1 L311.86 253.71 L312.17 253.3 L312.48 252.87 L312.8 252.43 L313.11 251.98 L313.42 251.51 L313.73 251.03 L314.05 250.53 L314.36 250.03 L314.67 249.52 L314.98 249 L315.3 248.47 L315.61 247.94 L315.92 247.41 L316.24 246.87 L316.55 246.33 L316.86 245.79 L317.17 245.25 L317.49 244.72 L317.8 244.17 L318.11 243.62 L318.42 243.06 L318.74 242.48 L319.05 241.89 L319.36 241.3 L319.67 240.7 L319.99 240.08 L320.3 239.46 L320.61 238.83 L320.93 238.2 L321.24 237.56 L321.55 236.91 L321.86 236.26 L322.18 235.6 L322.49 234.94 L322.8 234.28 L323.11 233.61 L323.43 232.94 L323.74 232.27 L324.05 231.59 L324.37 230.92 L324.68 230.24 L324.99 229.56 L325.3 228.87 L325.62 228.16 L325.93 227.44 L326.24 226.71 L326.55 225.98 L326.87 225.24 L327.18 224.49 L327.49 223.74 L327.8 222.98 L328.12 222.23 L328.43 221.47 L328.74 220.71 L329.06 219.96 L329.37 219.21 L329.68 218.47 L329.99 217.73 L330.31 217 L330.62 216.27 L330.93 215.56 L331.24 214.86 L331.56 214.17 L331.87 213.5 L332.18 212.83 L332.5 212.16 L332.81 211.5 L333.12 210.83 L333.43 210.17 L333.75 209.51 L334.06 208.86 L334.37 208.2 L334.68 207.56 L335 206.91 L335.31 206.28 L335.62 205.65 L335.94 205.02 L336.25 204.41 L336.56 203.8 L336.87 203.2 L337.19 202.61 L337.5 202.03 L337.81 201.46 L338.12 200.89 L338.44 200.35 L338.75 199.81 L339.06 199.28 L339.37 198.77 L339.69 198.27 L340 197.77 L340.31 197.29 L340.63 196.81 L340.94 196.34 L341.25 195.88 L341.56 195.42 L341.88 194.98 L342.19 194.53 L342.5 194.1 L342.81 193.67 L343.13 193.25 L343.44 192.83 L343.75 192.42 L344.07 192.01 L344.38 191.6 L344.69 191.2 L345 190.81 L345.32 190.41 L345.63 190.01 L345.94 189.62 L346.25 189.22 L346.57 188.83 L346.88 188.45 L347.19 188.08 L347.5 187.73 L347.82 187.41 L348.13 187.1 L348.44 186.83 L348.76 186.56 L349.07 186.29 L349.38 186.01 L349.69 185.75 L350.01 185.51 L350.32 185.31 L350.63 185.16 L350.94 185.07 L351.26 185.04 L351.57 185.09 L351.88 185.18 L352.2 185.32 L352.51 185.5 L352.82 185.69 L353.13 185.9 L353.45 186.11 L353.76 186.32 L354.07 186.5 L354.38 186.7 L354.7 186.93 L355.01 187.18 L355.32 187.44 L355.64 187.7 L355.95 187.94 L356.26 188.14 L356.57 188.31 L356.89 188.42 L357.2 188.46 L357.51 188.43 L357.82 188.34 L358.14 188.21 L358.45 188.04 L358.76 187.84 L359.07 187.61 L359.39 187.36 L359.7 187.1 L360.01 186.83 L360.33 186.49 L360.64 186.03 L360.95 185.49 L361.26 184.9 L361.58 184.3 L361.89 183.72 L362.2 183.19 L362.51 182.77 L362.83 182.37 L363.14 181.97 L363.45 181.59 L363.77 181.28 L364.08 181.06 L364.39 180.98 L364.7 180.98 L365.02 181 L365.33 181.02 L365.64 181.05 L365.95 181.09 L366.27 181.14 L366.58 181.22 L366.89 181.35 L367.21 181.54 L367.52 181.79 L367.83 182.1 L368.14 182.57 L368.46 183.74 L368.77 185.48 L369.08 187.55 L369.39 189.7 L369.71 191.71 L370.02 193.66 L370.33 195.77 L370.64 197.93 L370.96 200.04 L371.27 202.01 L371.58 203.74 L371.9 205.32 L372.21 206.89 L372.52 208.43 L372.83 209.92 L373.15 211.36 L373.46 212.73 L373.77 214 L374.08 215.16 L374.4 216.2 L374.71 217.1 L375.02 217.85 L375.34 218.43 L375.65 218.95 L375.96 219.42 L376.27 219.84 L376.59 220.21 L376.9 220.52 L377.21 220.78 L377.52 220.98 L377.84 221.14 L378.15 221.29 L378.46 221.43 L378.78 221.55 L379.09 221.65 L379.4 221.73 L379.71 221.77 L380.03 221.79 L380.34 221.76 L380.65 221.7 L380.96 221.6 L381.28 221.47 L381.59 221.32 L381.9 221.16 L382.21 220.99 L382.53 220.82 L382.84 220.65 L383.15 220.47 L383.47 220.28 L383.78 220.06 L384.09 219.83 L384.4 219.58 L384.72 219.32 L385.03 219.05 L385.34 218.77 L385.65 218.49 L385.97 218.21 L386.28 217.92 L386.59 217.62 L386.91 217.31 L387.22 216.99 L387.53 216.66 L387.84 216.32 L388.16 215.98 L388.47 215.62 L388.78 215.26 L389.09 214.9 L389.41 214.53 L389.72 214.15 L390.03 213.77 L390.34 213.39 L390.66 213.01 L390.97 212.63 L391.28 212.25 L391.6 211.87 L391.91 211.49 L392.22 211.11 L392.53 210.74 L392.85 210.37 L393.16 210.01 L393.47 209.65 L393.78 209.3 L394.1 208.95 L394.41 208.62 L394.72 208.29 L395.04 207.95 L395.35 207.61 L395.66 207.28 L395.97 206.94 L396.29 206.6 L396.6 206.26 L396.91 205.93 L397.22 205.59 L397.54 205.26 L397.85 204.93 L398.16 204.61 L398.48 204.29 L398.79 203.97 L399.1 203.66 L399.41 203.36 L399.73 203.06 L400.04 202.77 L400.35 202.49 L400.66 202.22 L400.98 201.96 L401.29 201.71 L401.6 201.46 L401.91 201.23 L402.23 201 L402.54 200.79 L402.85 200.57 L403.17 200.36 L403.48 200.16 L403.79 199.96 L404.1 199.77 L404.42 199.58 L404.73 199.39 L405.04 199.21 L405.35 199.03 L405.67 198.85 L405.98 198.67 L406.29 198.49 L406.61 198.32 L406.92 198.14 L407.23 197.97 L407.54 197.79 L407.86 197.61 L408.17 197.44 L408.48 197.26 L408.79 197.07 L409.11 196.89 L409.42 196.72 L409.73 196.54 L410.05 196.38 L410.36 196.21 L410.67 196.05 L410.98 195.89 L411.3 195.73 L411.61 195.56 L411.92 195.4 L412.23 195.24 L412.55 195.08 L412.86 194.91 L413.17 194.75 L413.48 194.58 L413.8 194.4 L414.11 194.22 L414.42 194.04 L414.74 193.84 L415.05 193.65 L415.36 193.44 L415.67 193.23 L415.99 193.01 L416.3 192.78 L416.61 192.53 L416.92 192.28 L417.24 192.01 L417.55 191.73 L417.86 191.45 L418.18 191.15 L418.49 190.85 L418.8 190.54 L419.11 190.22 L419.43 189.9 L419.74 189.57 L420.05 189.24 L420.36 188.9 L420.68 188.56 L420.99 188.22 L421.3 187.88 L421.61 187.54 L421.93 187.2 L422.24 186.86 L422.55 186.52 L422.87 186.19 L423.18 185.85 L423.49 185.52 L423.8 185.17 L424.12 184.81 L424.43 184.45 L424.74 184.08 L425.05 183.71 L425.37 183.34 L425.68 182.98 L425.99 182.62 L426.31 182.27 L426.62 181.92 L426.93 181.59 L427.24 181.28 L427.56 180.98 L427.87 180.68 L428.18 180.38 L428.49 180.08 L428.81 179.8 L429.12 179.55 L429.43 179.34 L429.75 179.19 L430.06 179.07 L430.37 178.95 L430.68 178.85 L431 178.77 L431.31 178.72 L431.62 178.7 L431.93 178.73 L432.25 178.83 L432.56 178.98 L432.87 179.16 L433.18 179.37 L433.5 179.6 L433.81 179.84 L434.12 180.11 L434.44 180.46 L434.75 180.87 L435.06 181.32 L435.37 181.79 L435.69 182.28 L436 182.77 L436.31 183.27 L436.62 183.81 L436.94 184.37 L437.25 184.95 L437.56 185.53 L437.88 186.08 L438.19 186.62 L438.5 187.15 L438.81 187.72 L439.13 188.34 L439.44 189.04 L439.75 189.86 L440.06 190.87 L440.38 192.04 L440.69 193.34 L441 194.74 L441.32 196.21 L441.63 197.72 L441.94 199.24 L442.25 200.74 L442.57 202.19 L442.88 203.67 L443.19 205.19 L443.5 206.75 L443.82 208.32 L444.13 209.93 L444.44 211.54 L444.75 213.17 L445.07 214.82 L445.38 216.5 L445.69 218.21 L446.01 219.97 L446.32 221.79 L446.63 223.7 L446.94 225.7 L447.26 227.76 L447.57 229.83 L447.88 231.88 L448.19 233.88 L448.51 235.87 L448.82 237.85 L449.13 239.82 L449.45 241.79 L449.76 243.74 L450.07 245.67 L450.38 247.56 L450.7 249.46 L451.01 251.37 L451.32 253.31 L451.63 255.32 L451.95 257.39 L452.26 259.5 L452.57 261.64 L452.88 263.77 L453.2 265.88 L453.51 267.96 L453.82 270.03 L454.14 272.1 L454.45 274.15 L454.76 276.19 L455.07 278.21 L455.39 280.23 L455.7 282.26 L456.01 284.27 L456.32 286.24 L456.64 288.14 L456.95 289.95 L457.26 291.69 L457.58 293.39 L457.89 295.06 L458.2 296.68 L458.51 298.26 L458.83 299.8 L459.14 301.3 L459.45 302.75 L459.76 304.16 L460.08 305.55 L460.39 306.94 L460.7 308.29 L461.02 309.61 L461.33 310.89 L461.64 312.1 L461.95 313.23 L462.27 314.28 L462.58 315.24 L462.89 316.14 L463.2 317.02 L463.52 317.86 L463.83 318.68 L464.14 319.46 L464.45 320.21 L464.77 320.93 L465.08 321.62 L465.39 322.28 L465.71 322.91 L466.02 323.51 L466.33 324.07 L466.64 324.61 L466.96 325.12 L467.27 325.63 L467.58 326.12 L467.89 326.6 L468.21 327.06 L468.52 327.52 L468.83 327.96 L469.15 328.38 L469.46 328.79 L469.77 329.19 L470.08 329.56 L470.4 329.92 L470.71 330.27 L471.02 330.6 L471.33 330.9 L471.65 331.19 L471.96 331.46 L472.27 331.71 L472.59 331.94 L472.9 332.17 L473.21 332.39 L473.52 332.6 L473.84 332.8 L474.15 333 L474.46 333.19 L474.77 333.38 L475.09 333.56 L475.4 333.73 L475.71 333.9 L476.02 334.06 L476.34 334.22 L476.65 334.37 L476.96 334.51 L477.28 334.65 L477.59 334.79 L477.9 334.92 L478.21 335.04 L478.53 335.16 L478.84 335.28 L479.15 335.39 L479.46 335.5 L479.78 335.61 L480.09 335.71 L480.4 335.81 L480.72 335.91 L481.03 336.01 L481.34 336.11 L481.65 336.2 L481.97 336.29 L482.28 336.39 L482.59 336.47 L482.9 336.56 L483.22 336.65 L483.53 336.73 L483.84 336.81 L484.15 336.89 L484.47 336.97 L484.78 337.05 L485.09 337.12 L485.41 337.2 L485.72 337.27 L486.03 337.34 L486.34 337.41 L486.66 337.48 L486.97 337.55 L487.28 337.61 L487.59 337.67 L487.91 337.74 L488.22 337.8 L488.53 337.86 L488.85 337.91 L489.16 337.97 L489.47 338.03 L489.78 338.08 L490.1 338.13 L490.41 338.19 L490.72 338.24 L491.03 338.29 L491.35 338.34 L491.66 338.38 L491.97 338.43 L492.29 338.48 L492.6 338.53 L492.91 338.58 L493.22 338.62 L493.54 338.67 L493.85 338.72 L494.16 338.76 L494.47 338.81 L494.79 338.85 L495.1 338.89 L495.41 338.94 L495.72 338.98 L496.04 339.02 L496.35 339.06 L496.66 339.1 L496.98 339.14 L497.29 339.18 L497.6 339.22 L497.91 339.26 L498.23 339.3 L498.54 339.34 L498.85 339.38 L499.16 339.41 L499.48 339.45 L499.79 339.48 L500.1 339.52 L500.42 339.55 L500.73 339.59 L501.04 339.62 L501.35 339.65 L501.67 339.69 L501.98 339.72 L502.29 339.75 L502.6 339.78 L502.92 339.81 L503.23 339.84 L503.54 339.87 L503.86 339.89 L504.17 339.92 L504.48 339.95 L504.79 339.97 L505.11 340 L505.42 340.02 L505.73 340.05 L506.04 340.07 L506.36 340.1 L506.67 340.12 L506.98 340.14 L507.29 340.16 L507.61 340.18 L507.92 340.2 L508.23 340.22 L508.55 340.25 L508.86 340.27 L509.17 340.29 L509.48 340.31 L509.8 340.33 L510.11 340.35 L510.42 340.37 L510.73 340.39 L511.05 340.41 L511.36 340.43 L511.67 340.45 L511.99 340.47 L512.3 340.49 L512.61 340.51 L512.92 340.53 L513.24 340.55 L513.55 340.57 L513.86 340.59 L514.17 340.61 L514.49 340.63 L514.8 340.65 L515.11 340.67 L515.42 340.69 L515.74 340.71 L516.05 340.73 L516.36 340.75 L516.68 340.76 L516.99 340.78 L517.3 340.8 L517.61 340.82 L517.93 340.83 L518.24 340.85 L518.55 340.87 L518.86 340.89 L519.18 340.9 L519.49 340.92 L519.8 340.93 L520.12 340.95 L520.43 340.97 L520.74 340.98 L521.05 341 L521.37 341.01 L521.68 341.03 L521.99 341.04 L522.3 341.05 L522.62 341.07 L522.93 341.08 L523.24 341.09 L523.56 341.11 L523.87 341.12 L524.18 341.13 L524.49 341.14 L524.81 341.15 L525.12 341.16 L525.43 341.17 L525.74 341.18 L526.06 341.19 L526.37 341.2 L526.68 341.21 L526.99 341.22 L527.31 341.23 L527.62 341.24 L527.93 341.24 L528.25 341.25 L528.56 341.26 L528.87 341.26 L529.18 341.27 L529.5 341.27 L529.81 341.28 L530.12 341.28 L530.43 341.29 L530.75 341.29 L531.06 341.29 L531.37 341.3 L531.69 341.3 L532 341.3 L532.31 341.3 L532.62 341.3 L532.94 341.3 L533.25 341.3 L533.56 341.3 L533.87 341.3 L534.19 341.3 L534.5 341.3 L534.81 341.3 L535.12 341.3" stroke="#fb0404" stroke-width="2.8"/>
</g>
<rect x="285.2" y="170.6" width="249.7" height="187.3" fill="none" stroke="#3c3c3c" stroke-width="1.2"/>
<line x1="300.6" y1="357.9" x2="300.6" y2="354.7" stroke="#222" stroke-width="0.9"/>
<text x="300.6" y="369.8" font-size="9.2" text-anchor="middle" font-weight="bold" fill="#222" >400</text>
<line x1="331.87" y1="357.9" x2="331.87" y2="356.1" stroke="#222" stroke-width="0.9"/>
<line x1="363.14" y1="357.9" x2="363.14" y2="354.7" stroke="#222" stroke-width="0.9"/>
<text x="363.14" y="369.8" font-size="9.2" text-anchor="middle" font-weight="bold" fill="#222" >600</text>
<line x1="394.41" y1="357.9" x2="394.41" y2="356.1" stroke="#222" stroke-width="0.9"/>
<line x1="425.68" y1="357.9" x2="425.68" y2="354.7" stroke="#222" stroke-width="0.9"/>
<text x="425.68" y="369.8" font-size="9.2" text-anchor="middle" font-weight="bold" fill="#222" >800</text>
<line x1="456.95" y1="357.9" x2="456.95" y2="356.1" stroke="#222" stroke-width="0.9"/>
<line x1="488.22" y1="357.9" x2="488.22" y2="354.7" stroke="#222" stroke-width="0.9"/>
<text x="488.22" y="369.8" font-size="9.2" text-anchor="middle" font-weight="bold" fill="#222" >1000</text>
<line x1="519.49" y1="357.9" x2="519.49" y2="356.1" stroke="#222" stroke-width="0.9"/>
<line x1="285.2" y1="341.3" x2="288.4" y2="341.3" stroke="#222" stroke-width="0.9"/>
<text x="281.3" y="344" font-size="9.4" text-anchor="end" font-weight="bold" fill="#1a1a1a" >0.0</text>
<line x1="285.2" y1="325.04" x2="287" y2="325.04" stroke="#222" stroke-width="0.9"/>
<line x1="285.2" y1="308.78" x2="288.4" y2="308.78" stroke="#222" stroke-width="0.9"/>
<text x="281.3" y="311.48" font-size="9.4" text-anchor="end" font-weight="bold" fill="#1a1a1a" >0.2</text>
<line x1="285.2" y1="292.52" x2="287" y2="292.52" stroke="#222" stroke-width="0.9"/>
<line x1="285.2" y1="276.26" x2="288.4" y2="276.26" stroke="#222" stroke-width="0.9"/>
<text x="281.3" y="278.96" font-size="9.4" text-anchor="end" font-weight="bold" fill="#1a1a1a" >0.4</text>
<line x1="285.2" y1="260" x2="287" y2="260" stroke="#222" stroke-width="0.9"/>
<line x1="285.2" y1="243.74" x2="288.4" y2="243.74" stroke="#222" stroke-width="0.9"/>
<text x="281.3" y="246.44" font-size="9.4" text-anchor="end" font-weight="bold" fill="#1a1a1a" >0.6</text>
<line x1="285.2" y1="227.48" x2="287" y2="227.48" stroke="#222" stroke-width="0.9"/>
<line x1="285.2" y1="211.22" x2="288.4" y2="211.22" stroke="#222" stroke-width="0.9"/>
<text x="281.3" y="213.92" font-size="9.4" text-anchor="end" font-weight="bold" fill="#1a1a1a" >0.8</text>
<line x1="285.2" y1="194.96" x2="287" y2="194.96" stroke="#222" stroke-width="0.9"/>
<line x1="285.2" y1="178.7" x2="288.4" y2="178.7" stroke="#222" stroke-width="0.9"/>
<text x="281.3" y="181.4" font-size="9.4" text-anchor="end" font-weight="bold" fill="#1a1a1a" >1.0</text>
<text x="410.1" y="382" font-size="10.5" text-anchor="middle" font-weight="bold" fill="#111" textLength="85.4" lengthAdjust="spacingAndGlyphs">Wavelength (nm)</text>
<text transform="translate(265.8 327.6) rotate(-90)" font-size="10" font-weight="bold" fill="#111" textLength="125.7" lengthAdjust="spacingAndGlyphs">Absorbance (Normalized)</text>
<line x1="450.2" y1="178.4" x2="470" y2="178.4" stroke="#47108c" stroke-width="2.5"/>
<text x="471.4" y="181.3" font-size="8" text-anchor="start" font-weight="bold" fill="#111" >PTQ10</text>
<line x1="450.2" y1="188.9" x2="470" y2="188.9" stroke="#0606f6" stroke-width="2.5"/>
<text x="471.4" y="191.8" font-size="8" text-anchor="start" font-weight="bold" fill="#111" >Y6</text>
<line x1="450.2" y1="199.3" x2="470" y2="199.3" stroke="#04fa04" stroke-width="2.5"/>
<text x="471.4" y="202.2" font-size="8" text-anchor="start" font-weight="bold" fill="#111" >PTQ10:Y6 (DIO)</text>
<line x1="450.2" y1="209.6" x2="470" y2="209.6" stroke="#fb0404" stroke-width="2.5"/>
<text x="471.4" y="212.5" font-size="8" text-anchor="start" font-weight="bold" fill="#111" >PTQ10:Y6</text>
</g>
</svg></body></html>
